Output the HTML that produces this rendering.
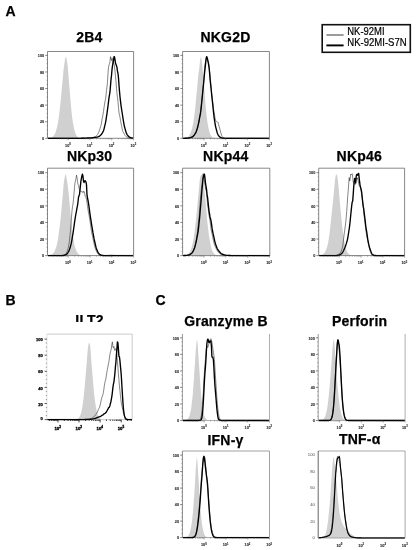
<!DOCTYPE html>
<html><head><meta charset="utf-8"><title>Figure</title>
<style>html,body{margin:0;padding:0;background:#fff}svg{display:block;filter:blur(0.38px)}text{font-family:'Liberation Sans', Arial, sans-serif}</style>
</head><body>
<svg width="418" height="550" viewBox="0 0 418 550">
<rect width="418" height="550" fill="#fff"/>
<text x="5.6" y="15.9" font-size="14" font-weight="bold" fill="#000" stroke="#000" stroke-width="0.25">A</text>
<text x="5.6" y="305.2" font-size="14" font-weight="bold" fill="#000" stroke="#000" stroke-width="0.25">B</text>
<text x="155.4" y="305.2" font-size="14" font-weight="bold" fill="#000" stroke="#000" stroke-width="0.25">C</text>
<text x="89.6" y="324.7" text-anchor="middle" font-size="14" font-weight="bold" fill="#000" stroke="#000" stroke-width="0.25" letter-spacing="0.2">ILT2</text>
<rect x="30" y="322" width="115" height="20" fill="#fff"/>
<text x="89.4" y="41.6" text-anchor="middle" font-size="14" font-weight="bold" fill="#000" stroke="#000" stroke-width="0.25" letter-spacing="0.2">2B4</text>
<text x="225.5" y="41.6" text-anchor="middle" font-size="14" font-weight="bold" fill="#000" stroke="#000" stroke-width="0.25" letter-spacing="0.2">NKG2D</text>
<text x="89.6" y="161.2" text-anchor="middle" font-size="14" font-weight="bold" fill="#000" stroke="#000" stroke-width="0.25" letter-spacing="0.2">NKp30</text>
<text x="225.8" y="161.2" text-anchor="middle" font-size="14" font-weight="bold" fill="#000" stroke="#000" stroke-width="0.25" letter-spacing="0.2">NKp44</text>
<text x="359.3" y="161.2" text-anchor="middle" font-size="14" font-weight="bold" fill="#000" stroke="#000" stroke-width="0.25" letter-spacing="0.2">NKp46</text>
<text x="226.0" y="325.6" text-anchor="middle" font-size="14" font-weight="bold" fill="#000" stroke="#000" stroke-width="0.25" letter-spacing="0.2">Granzyme B</text>
<text x="359.7" y="325.5" text-anchor="middle" font-size="14" font-weight="bold" fill="#000" stroke="#000" stroke-width="0.25" letter-spacing="0.2">Perforin</text>
<text x="225.5" y="444.6" text-anchor="middle" font-size="14" font-weight="bold" fill="#000" stroke="#000" stroke-width="0.25" letter-spacing="0.2">IFN-γ</text>
<text x="359.8" y="444.1" text-anchor="middle" font-size="14" font-weight="bold" fill="#000" stroke="#000" stroke-width="0.25" letter-spacing="0.2">TNF-α</text>
<rect x="322.2" y="24.7" width="88.1" height="27.6" fill="#fff" stroke="#111" stroke-width="1.6"/>
<path d="M326.4,35.0 H343.6" stroke="#7a7a7a" stroke-width="1.5"/>
<path d="M326.4,45.4 H343.6" stroke="#000" stroke-width="1.9"/>
<text x="347.3" y="35.4" font-size="10.3" textLength="37.2" lengthAdjust="spacingAndGlyphs" fill="#000" stroke="#000" stroke-width="0.2">NK-92MI</text>
<text x="347.3" y="46.1" font-size="10.3" textLength="59.4" lengthAdjust="spacingAndGlyphs" fill="#000" stroke="#000" stroke-width="0.2">NK-92MI-S7N</text>
<path d="M48.0,138.2 L48.5,138.2 L49.0,138.1 L49.5,138.0 L50.0,137.9 L50.5,137.8 L51.0,137.7 L51.5,137.5 L52.0,137.2 L52.5,136.9 L53.0,136.5 L53.5,135.9 L54.0,135.3 L54.5,134.5 L55.0,133.6 L55.5,132.4 L56.0,130.9 L56.5,129.1 L57.0,127.2 L57.5,125.0 L58.0,122.5 L58.5,119.4 L59.0,115.8 L59.5,111.7 L60.0,107.2 L60.5,102.5 L61.0,97.4 L61.5,92.1 L62.0,86.2 L62.5,81.4 L63.0,76.0 L63.5,70.4 L64.0,66.4 L64.5,63.0 L65.0,59.2 L65.5,57.1 L66.0,57.1 L66.5,58.5 L67.0,61.7 L67.5,64.6 L68.0,69.8 L68.5,76.6 L69.0,82.3 L69.5,88.2 L70.0,94.6 L70.5,100.8 L71.0,106.1 L71.5,111.2 L72.0,116.2 L72.5,120.1 L73.0,123.1 L73.5,125.8 L74.0,128.2 L74.5,130.4 L75.0,132.2 L75.5,133.6 L76.0,134.7 L76.5,135.6 L77.0,136.3 L77.5,136.8 L78.0,137.2 L78.5,137.5 L79.0,137.7 L79.5,137.9 L80.0,138.0 L80.5,138.1 L81.0,138.2 L81.5,138.2 L82.0,138.2 L82.5,138.3 L83.0,138.3 L83.5,138.3 L84.0,138.3 L84.5,138.3 L85.0,138.3 L85.5,138.3 L86.0,138.3 L86.5,138.3 L87.0,138.3 L87.5,138.3 L88.0,138.3 L88.5,138.3 L89.0,138.3 L89.5,138.3 L90.0,138.3 L90.5,138.3 L91.0,138.3 L91.5,138.3 L92.0,138.3 L92.5,138.3 L93.0,138.3 L93.5,138.3 L94.0,138.3 L94.5,138.3 L95.0,138.3 L95.5,138.3 L96.0,138.3 L96.5,138.3 L97.0,138.3 L97.5,138.3 L98.0,138.3 L98.5,138.3 L99.0,138.3 L99.5,138.3 L100.0,138.3 L100.5,138.3 L101.0,138.3 L101.5,138.3 L102.0,138.3 L102.5,138.3 L103.0,138.3 L103.5,138.3 L104.0,138.3 L104.5,138.3 L105.0,138.3 L105.5,138.3 L106.0,138.3 L106.5,138.3 L107.0,138.3 L107.5,138.3 L108.0,138.3 L108.5,138.3 L109.0,138.3 L109.5,138.3 L110.0,138.3 L110.5,138.3 L111.0,138.3 L111.5,138.3 L112.0,138.3 L112.5,138.3 L113.0,138.3 L113.5,138.3 L114.0,138.3 L114.5,138.3 L115.0,138.3 L115.5,138.3 L116.0,138.3 L116.5,138.3 L117.0,138.3 L117.5,138.3 L118.0,138.3 L118.5,138.3 L119.0,138.3 L119.5,138.3 L120.0,138.3 L120.5,138.3 L121.0,138.3 L121.5,138.3 L122.0,138.3 L122.5,138.3 L123.0,138.3 L123.5,138.3 L124.0,138.3 L124.5,138.3 L125.0,138.3 L125.5,138.3 L126.0,138.3 L126.5,138.3 L127.0,138.3 L127.5,138.3 L128.0,138.3 L128.5,138.3 L129.0,138.3 L129.5,138.3 L130.0,138.3 L130.5,138.3 L131.0,138.3 L131.5,138.3 L132.0,138.3 L132.5,138.3 L133.0,138.3 L133.0,138.3 L48.0,138.3 Z" fill="#d0d0d0" stroke="none"/>
<path d="M47.5,51.5 H133.6 V138.3" fill="none" stroke="#727272" stroke-width="0.85"/>
<path d="M47.5,51.5 V138.3" fill="none" stroke="#727272" stroke-width="0.85"/>
<path d="M47.5,138.3 H133.6" fill="none" stroke="#727272" stroke-width="0.85"/>
<path d="M48.0,138.1 L48.5,138.1 L49.0,138.1 L49.5,138.1 L50.0,138.1 L50.5,138.1 L51.0,138.1 L51.5,138.1 L52.0,138.1 L52.5,138.1 L53.0,138.1 L53.5,138.1 L54.0,138.1 L54.5,138.1 L55.0,138.1 L55.5,138.1 L56.0,138.1 L56.5,138.1 L57.0,138.1 L57.5,138.1 L58.0,138.1 L58.5,138.1 L59.0,138.1 L59.5,138.1 L60.0,138.1 L60.5,138.1 L61.0,138.1 L61.5,138.1 L62.0,138.1 L62.5,138.1 L63.0,138.1 L63.5,138.1 L64.0,138.1 L64.5,138.1 L65.0,138.1 L65.5,138.1 L66.0,138.1 L66.5,138.1 L67.0,138.1 L67.5,138.1 L68.0,138.1 L68.5,138.1 L69.0,138.1 L69.5,138.1 L70.0,138.1 L70.5,138.1 L71.0,138.1 L71.5,138.1 L72.0,138.1 L72.5,138.1 L73.0,138.1 L73.5,138.1 L74.0,138.1 L74.5,138.1 L75.0,138.1 L75.5,138.1 L76.0,138.1 L76.5,138.1 L77.0,138.1 L77.5,138.1 L78.0,138.1 L78.5,138.1 L79.0,138.1 L79.5,138.1 L80.0,138.1 L80.5,138.1 L81.0,138.1 L81.5,138.1 L82.0,138.1 L82.5,138.1 L83.0,138.1 L83.5,138.1 L84.0,138.1 L84.5,138.1 L85.0,138.1 L85.5,138.1 L86.0,138.1 L86.5,138.1 L87.0,138.1 L87.5,138.1 L88.0,138.1 L88.5,138.1 L89.0,138.1 L89.5,138.1 L90.0,138.1 L90.5,138.1 L91.0,138.1 L91.5,138.0 L92.0,137.9 L92.5,137.8 L93.0,137.7 L93.5,137.6 L94.0,137.4 L94.5,137.1 L95.0,136.8 L95.5,136.5 L96.0,136.1 L96.5,135.6 L97.0,135.1 L97.5,134.5 L98.0,133.8 L98.5,132.7 L99.0,131.5 L99.5,130.1 L100.0,128.5 L100.5,126.9 L101.0,125.4 L101.5,123.0 L102.0,119.4 L102.5,117.1 L103.0,114.4 L103.5,111.5 L104.0,107.6 L104.5,104.5 L105.0,101.3 L105.5,99.7 L106.0,95.4 L106.5,90.4 L107.0,86.6 L107.5,81.7 L108.0,73.4 L108.5,67.2 L109.0,64.9 L109.5,63.9 L110.0,61.5 L110.5,56.6 L111.0,59.5 L111.5,60.6 L112.0,57.9 L112.5,59.2 L113.0,63.9 L113.5,63.4 L114.0,63.6 L114.5,66.9 L115.0,71.6 L115.5,76.2 L116.0,81.2 L116.5,88.3 L117.0,94.0 L117.5,97.5 L118.0,101.8 L118.5,107.6 L119.0,112.9 L119.5,114.8 L120.0,117.3 L120.5,120.4 L121.0,123.1 L121.5,125.4 L122.0,128.1 L122.5,130.3 L123.0,131.7 L123.5,132.6 L124.0,133.6 L124.5,134.5 L125.0,135.3 L125.5,135.9 L126.0,136.4 L126.5,136.9 L127.0,137.2 L127.5,137.4 L128.0,137.7 L128.5,137.8 L129.0,137.9 L129.5,138.0 L130.0,138.1 L130.5,138.1 L131.0,138.1 L131.5,138.1 L132.0,138.1 L132.5,138.1 L133.0,138.1" fill="none" stroke="#333" stroke-width="0.6" stroke-linejoin="miter"/>
<path d="M48.0,138.3 L48.5,138.3 L49.0,138.3 L49.5,138.3 L50.0,138.3 L50.5,138.3 L51.0,138.3 L51.5,138.3 L52.0,138.3 L52.5,138.3 L53.0,138.3 L53.5,138.3 L54.0,138.3 L54.5,138.3 L55.0,138.3 L55.5,138.3 L56.0,138.3 L56.5,138.3 L57.0,138.3 L57.5,138.3 L58.0,138.3 L58.5,138.3 L59.0,138.3 L59.5,138.3 L60.0,138.3 L60.5,138.3 L61.0,138.3 L61.5,138.3 L62.0,138.3 L62.5,138.3 L63.0,138.3 L63.5,138.3 L64.0,138.3 L64.5,138.3 L65.0,138.3 L65.5,138.3 L66.0,138.3 L66.5,138.3 L67.0,138.3 L67.5,138.3 L68.0,138.3 L68.5,138.3 L69.0,138.3 L69.5,138.3 L70.0,138.3 L70.5,138.3 L71.0,138.3 L71.5,138.3 L72.0,138.3 L72.5,138.3 L73.0,138.3 L73.5,138.3 L74.0,138.3 L74.5,138.3 L75.0,138.3 L75.5,138.3 L76.0,138.3 L76.5,138.3 L77.0,138.3 L77.5,138.3 L78.0,138.3 L78.5,138.3 L79.0,138.3 L79.5,138.3 L80.0,138.3 L80.5,138.3 L81.0,138.3 L81.5,138.2 L82.0,138.2 L82.5,138.2 L83.0,138.2 L83.5,138.2 L84.0,138.2 L84.5,138.2 L85.0,138.2 L85.5,138.1 L86.0,138.1 L86.5,138.1 L87.0,138.1 L87.5,138.0 L88.0,138.0 L88.5,138.0 L89.0,138.0 L89.5,137.9 L90.0,137.9 L90.5,137.8 L91.0,137.8 L91.5,137.8 L92.0,137.7 L92.5,137.7 L93.0,137.6 L93.5,137.6 L94.0,137.5 L94.5,137.4 L95.0,137.4 L95.5,137.3 L96.0,137.3 L96.5,137.2 L97.0,137.1 L97.5,137.0 L98.0,136.8 L98.5,136.7 L99.0,136.4 L99.5,136.1 L100.0,135.7 L100.5,135.3 L101.0,134.7 L101.5,134.2 L102.0,133.5 L102.5,132.6 L103.0,131.6 L103.5,130.8 L104.0,129.1 L104.5,126.8 L105.0,124.8 L105.5,122.8 L106.0,119.9 L106.5,116.6 L107.0,113.4 L107.5,109.6 L108.0,106.0 L108.5,101.9 L109.0,97.6 L109.5,95.0 L110.0,91.7 L110.5,85.6 L111.0,79.6 L111.5,75.4 L112.0,69.7 L112.5,65.7 L113.0,63.1 L113.5,60.6 L114.0,56.6 L114.5,56.9 L115.0,59.6 L115.5,63.3 L116.0,64.4 L116.5,65.8 L117.0,67.6 L117.5,71.5 L118.0,73.4 L118.5,78.1 L119.0,85.3 L119.5,91.4 L120.0,96.8 L120.5,101.2 L121.0,105.3 L121.5,108.7 L122.0,112.0 L122.5,115.0 L123.0,118.4 L123.5,121.4 L124.0,124.3 L124.5,126.8 L125.0,128.6 L125.5,130.2 L126.0,132.0 L126.5,133.4 L127.0,134.3 L127.5,135.1 L128.0,135.8 L128.5,136.4 L129.0,136.8 L129.5,137.2 L130.0,137.4 L130.5,137.6 L131.0,137.8 L131.5,137.9 L132.0,138.0 L132.5,138.1 L133.0,138.2" fill="none" stroke="#000" stroke-width="1.35" stroke-linejoin="round"/>
<path d="M45.2,138.30 H47.5 M45.2,121.72 H47.5 M45.2,105.14 H47.5 M45.2,88.56 H47.5 M45.2,71.98 H47.5 M45.2,55.40 H47.5 " stroke="#555" stroke-width="0.7" fill="none"/>
<path d="M46.4,134.16 H47.5 M46.4,130.01 H47.5 M46.4,125.87 H47.5 M46.4,117.58 H47.5 M46.4,113.43 H47.5 M46.4,109.29 H47.5 M46.4,101.00 H47.5 M46.4,96.85 H47.5 M46.4,92.71 H47.5 M46.4,84.42 H47.5 M46.4,80.27 H47.5 M46.4,76.13 H47.5 M46.4,67.84 H47.5 M46.4,63.69 H47.5 M46.4,59.55 H47.5 " stroke="#555" stroke-width="0.5" fill="none" opacity="0.8"/>
<text x="44.1" y="140.0" text-anchor="end" font-size="3.75" font-weight="bold" fill="#2a2a2a" stroke="#2a2a2a" stroke-width="0.1">0</text>
<text x="44.1" y="123.4" text-anchor="end" font-size="3.75" font-weight="bold" fill="#2a2a2a" stroke="#2a2a2a" stroke-width="0.1">20</text>
<text x="44.1" y="106.8" text-anchor="end" font-size="3.75" font-weight="bold" fill="#2a2a2a" stroke="#2a2a2a" stroke-width="0.1">40</text>
<text x="44.1" y="90.3" text-anchor="end" font-size="3.75" font-weight="bold" fill="#2a2a2a" stroke="#2a2a2a" stroke-width="0.1">60</text>
<text x="44.1" y="73.7" text-anchor="end" font-size="3.75" font-weight="bold" fill="#2a2a2a" stroke="#2a2a2a" stroke-width="0.1">80</text>
<text x="44.1" y="57.1" text-anchor="end" font-size="3.75" font-weight="bold" fill="#2a2a2a" stroke="#2a2a2a" stroke-width="0.1">100</text>
<path d="M52.96,138.3 v1.0 M56.80,138.3 v1.0 M59.52,138.3 v1.0 M61.64,138.3 v1.0 M63.36,138.3 v1.0 M64.82,138.3 v1.0 M66.09,138.3 v1.0 M67.20,138.3 v1.0 M68.20,138.3 v2.0 M74.76,138.3 v1.0 M78.60,138.3 v1.0 M81.32,138.3 v1.0 M83.44,138.3 v1.0 M85.16,138.3 v1.0 M86.62,138.3 v1.0 M87.89,138.3 v1.0 M89.00,138.3 v1.0 M90.00,138.3 v2.0 M96.56,138.3 v1.0 M100.40,138.3 v1.0 M103.12,138.3 v1.0 M105.24,138.3 v1.0 M106.96,138.3 v1.0 M108.42,138.3 v1.0 M109.69,138.3 v1.0 M110.80,138.3 v1.0 M111.80,138.3 v2.0 M118.36,138.3 v1.0 M122.20,138.3 v1.0 M124.92,138.3 v1.0 M127.04,138.3 v1.0 M128.76,138.3 v1.0 M130.22,138.3 v1.0 M131.49,138.3 v1.0 M132.60,138.3 v1.0 M133.60,138.3 v2.0 " stroke="#555" stroke-width="0.5" fill="none"/>
<text x="67.9" y="146.8" text-anchor="middle" font-size="3.75" font-weight="bold" fill="#2a2a2a" stroke="#2a2a2a" stroke-width="0.1">10<tspan dy="-1.6" font-size="2.70">0</tspan></text>
<text x="89.7" y="146.8" text-anchor="middle" font-size="3.75" font-weight="bold" fill="#2a2a2a" stroke="#2a2a2a" stroke-width="0.1">10<tspan dy="-1.6" font-size="2.70">1</tspan></text>
<text x="111.5" y="146.8" text-anchor="middle" font-size="3.75" font-weight="bold" fill="#2a2a2a" stroke="#2a2a2a" stroke-width="0.1">10<tspan dy="-1.6" font-size="2.70">2</tspan></text>
<text x="133.3" y="146.8" text-anchor="middle" font-size="3.75" font-weight="bold" fill="#2a2a2a" stroke="#2a2a2a" stroke-width="0.1">10<tspan dy="-1.6" font-size="2.70">3</tspan></text>
<path d="M183.1,138.2 L183.6,138.2 L184.1,138.1 L184.6,138.1 L185.1,138.0 L185.6,137.9 L186.1,137.8 L186.6,137.6 L187.1,137.3 L187.6,137.1 L188.1,136.7 L188.6,136.2 L189.1,135.6 L189.6,134.9 L190.1,134.0 L190.6,132.8 L191.1,131.5 L191.6,130.0 L192.1,128.2 L192.6,126.0 L193.1,123.5 L193.6,120.7 L194.1,117.3 L194.6,113.6 L195.1,109.3 L195.6,103.7 L196.1,98.4 L196.6,93.3 L197.1,88.7 L197.6,82.6 L198.1,77.1 L198.6,72.5 L199.1,70.0 L199.6,65.2 L200.1,60.3 L200.6,57.1 L201.1,58.0 L201.6,59.8 L202.1,64.2 L202.6,68.8 L203.1,74.4 L203.6,80.0 L204.1,86.6 L204.6,92.4 L205.1,99.1 L205.6,105.5 L206.1,111.1 L206.6,115.5 L207.1,119.5 L207.6,123.2 L208.1,126.1 L208.6,128.5 L209.1,130.6 L209.6,132.5 L210.1,134.0 L210.6,135.0 L211.1,135.9 L211.6,136.5 L212.1,137.0 L212.6,137.4 L213.1,137.6 L213.6,137.8 L214.1,138.0 L214.6,138.1 L215.1,138.2 L215.6,138.2 L216.1,138.2 L216.6,138.3 L217.1,138.3 L217.6,138.3 L218.1,138.3 L218.6,138.3 L219.1,138.3 L219.6,138.3 L220.1,138.3 L220.6,138.3 L221.1,138.3 L221.6,138.3 L222.1,138.3 L222.6,138.3 L223.1,138.3 L223.6,138.3 L224.1,138.3 L224.6,138.3 L225.1,138.3 L225.6,138.3 L226.1,138.3 L226.6,138.3 L227.1,138.3 L227.6,138.3 L228.1,138.3 L228.6,138.3 L229.1,138.3 L229.6,138.3 L230.1,138.3 L230.6,138.3 L231.1,138.3 L231.6,138.3 L232.1,138.3 L232.6,138.3 L233.1,138.3 L233.6,138.3 L234.1,138.3 L234.6,138.3 L235.1,138.3 L235.6,138.3 L236.1,138.3 L236.6,138.3 L237.1,138.3 L237.6,138.3 L238.1,138.3 L238.6,138.3 L239.1,138.3 L239.6,138.3 L240.1,138.3 L240.6,138.3 L241.1,138.3 L241.6,138.3 L242.1,138.3 L242.6,138.3 L243.1,138.3 L243.6,138.3 L244.1,138.3 L244.6,138.3 L245.1,138.3 L245.6,138.3 L246.1,138.3 L246.6,138.3 L247.1,138.3 L247.6,138.3 L248.1,138.3 L248.6,138.3 L249.1,138.3 L249.6,138.3 L250.1,138.3 L250.6,138.3 L251.1,138.3 L251.6,138.3 L252.1,138.3 L252.6,138.3 L253.1,138.3 L253.6,138.3 L254.1,138.3 L254.6,138.3 L255.1,138.3 L255.6,138.3 L256.1,138.3 L256.6,138.3 L257.1,138.3 L257.6,138.3 L258.1,138.3 L258.6,138.3 L259.1,138.3 L259.6,138.3 L260.1,138.3 L260.6,138.3 L261.1,138.3 L261.6,138.3 L262.1,138.3 L262.6,138.3 L263.1,138.3 L263.6,138.3 L264.1,138.3 L264.6,138.3 L265.1,138.3 L265.6,138.3 L266.1,138.3 L266.6,138.3 L267.1,138.3 L267.6,138.3 L268.1,138.3 L268.6,138.3 L269.1,138.3 L269.1,138.3 L183.1,138.3 Z" fill="#d0d0d0" stroke="none"/>
<path d="M182.6,51.5 H269.4 V138.3" fill="none" stroke="#727272" stroke-width="0.85"/>
<path d="M182.6,51.5 V138.3" fill="none" stroke="#727272" stroke-width="0.85"/>
<path d="M182.6,138.3 H269.4" fill="none" stroke="#727272" stroke-width="0.85"/>
<path d="M183.1,138.1 L183.6,138.1 L184.1,138.1 L184.6,138.1 L185.1,138.1 L185.6,138.1 L186.1,138.1 L186.6,138.1 L187.1,138.1 L187.6,138.1 L188.1,138.1 L188.6,138.1 L189.1,138.1 L189.6,138.0 L190.1,138.0 L190.6,137.8 L191.1,137.7 L191.6,137.5 L192.1,137.3 L192.6,137.1 L193.1,136.8 L193.6,136.4 L194.1,135.9 L194.6,135.1 L195.1,134.3 L195.6,133.5 L196.1,132.4 L196.6,131.4 L197.1,130.0 L197.6,128.1 L198.1,125.6 L198.6,124.2 L199.1,121.7 L199.6,118.3 L200.1,114.7 L200.6,111.4 L201.1,106.7 L201.6,102.1 L202.1,98.0 L202.6,93.1 L203.1,87.0 L203.6,82.2 L204.1,76.0 L204.6,68.1 L205.1,63.9 L205.6,61.5 L206.1,59.7 L206.6,56.6 L207.1,58.8 L207.6,61.4 L208.1,62.3 L208.6,63.0 L209.1,67.6 L209.6,70.7 L210.1,75.2 L210.6,81.0 L211.1,88.2 L211.6,92.8 L212.1,97.4 L212.6,101.6 L213.1,105.7 L213.6,109.4 L214.1,112.7 L214.6,115.3 L215.1,118.3 L215.6,120.5 L216.1,121.4 L216.6,121.5 L217.1,121.8 L217.6,122.0 L218.1,122.5 L218.6,124.4 L219.1,126.5 L219.6,128.1 L220.1,129.9 L220.6,131.9 L221.1,133.6 L221.6,135.2 L222.1,136.3 L222.6,137.0 L223.1,137.5 L223.6,137.8 L224.1,138.0 L224.6,138.1 L225.1,138.1 L225.6,138.1 L226.1,138.1 L226.6,138.1 L227.1,138.1 L227.6,138.1 L228.1,138.1 L228.6,138.1 L229.1,138.1 L229.6,138.1 L230.1,138.1 L230.6,138.1 L231.1,138.1 L231.6,138.1 L232.1,138.1 L232.6,138.1 L233.1,138.1 L233.6,138.1 L234.1,138.1 L234.6,138.1 L235.1,138.1 L235.6,138.1 L236.1,138.1 L236.6,138.1 L237.1,138.1 L237.6,138.1 L238.1,138.1 L238.6,138.1 L239.1,138.1 L239.6,138.1 L240.1,138.1 L240.6,138.1 L241.1,138.1 L241.6,138.1 L242.1,138.1 L242.6,138.1 L243.1,138.1 L243.6,138.1 L244.1,138.1 L244.6,138.1 L245.1,138.1 L245.6,138.1 L246.1,138.1 L246.6,138.1 L247.1,138.1 L247.6,138.1 L248.1,138.1 L248.6,138.1 L249.1,138.1 L249.6,138.1 L250.1,138.1 L250.6,138.1 L251.1,138.1 L251.6,138.1 L252.1,138.1 L252.6,138.1 L253.1,138.1 L253.6,138.1 L254.1,138.1 L254.6,138.1 L255.1,138.1 L255.6,138.1 L256.1,138.1 L256.6,138.1 L257.1,138.1 L257.6,138.1 L258.1,138.1 L258.6,138.1 L259.1,138.1 L259.6,138.1 L260.1,138.1 L260.6,138.1 L261.1,138.1 L261.6,138.1 L262.1,138.1 L262.6,138.1 L263.1,138.1 L263.6,138.1 L264.1,138.1 L264.6,138.1 L265.1,138.1 L265.6,138.1 L266.1,138.1 L266.6,138.1 L267.1,138.1 L267.6,138.1 L268.1,138.1 L268.6,138.1 L269.1,138.1" fill="none" stroke="#333" stroke-width="0.6" stroke-linejoin="miter"/>
<path d="M183.1,138.3 L183.6,138.3 L184.1,138.3 L184.6,138.3 L185.1,138.2 L185.6,138.2 L186.1,138.2 L186.6,138.2 L187.1,138.2 L187.6,138.1 L188.1,138.1 L188.6,138.0 L189.1,137.9 L189.6,137.8 L190.1,137.7 L190.6,137.6 L191.1,137.4 L191.6,137.2 L192.1,137.0 L192.6,136.7 L193.1,136.3 L193.6,135.7 L194.1,135.1 L194.6,134.4 L195.1,133.7 L195.6,132.9 L196.1,131.8 L196.6,130.4 L197.1,128.9 L197.6,127.3 L198.1,125.2 L198.6,122.9 L199.1,120.5 L199.6,117.7 L200.1,115.3 L200.6,112.5 L201.1,108.4 L201.6,103.5 L202.1,98.5 L202.6,93.3 L203.1,88.3 L203.6,83.6 L204.1,77.8 L204.6,72.6 L205.1,68.1 L205.6,63.6 L206.1,58.6 L206.6,56.6 L207.1,57.3 L207.6,59.4 L208.1,61.5 L208.6,64.6 L209.1,67.7 L209.6,73.3 L210.1,79.4 L210.6,84.4 L211.1,88.5 L211.6,94.0 L212.1,98.8 L212.6,103.1 L213.1,108.3 L213.6,113.0 L214.1,117.3 L214.6,120.9 L215.1,124.0 L215.6,126.5 L216.1,128.6 L216.6,130.5 L217.1,132.4 L217.6,133.8 L218.1,134.8 L218.6,135.6 L219.1,136.3 L219.6,136.8 L220.1,137.2 L220.6,137.5 L221.1,137.7 L221.6,137.9 L222.1,138.0 L222.6,138.1 L223.1,138.2 L223.6,138.2 L224.1,138.2 L224.6,138.3 L225.1,138.3 L225.6,138.3 L226.1,138.3 L226.6,138.3 L227.1,138.3 L227.6,138.3 L228.1,138.3 L228.6,138.3 L229.1,138.3 L229.6,138.3 L230.1,138.3 L230.6,138.3 L231.1,138.3 L231.6,138.3 L232.1,138.3 L232.6,138.3 L233.1,138.3 L233.6,138.3 L234.1,138.3 L234.6,138.3 L235.1,138.3 L235.6,138.3 L236.1,138.3 L236.6,138.3 L237.1,138.3 L237.6,138.3 L238.1,138.3 L238.6,138.3 L239.1,138.3 L239.6,138.3 L240.1,138.3 L240.6,138.3 L241.1,138.3 L241.6,138.3 L242.1,138.3 L242.6,138.3 L243.1,138.3 L243.6,138.3 L244.1,138.3 L244.6,138.3 L245.1,138.3 L245.6,138.3 L246.1,138.3 L246.6,138.3 L247.1,138.3 L247.6,138.3 L248.1,138.3 L248.6,138.3 L249.1,138.3 L249.6,138.3 L250.1,138.3 L250.6,138.3 L251.1,138.3 L251.6,138.3 L252.1,138.3 L252.6,138.3 L253.1,138.3 L253.6,138.3 L254.1,138.3 L254.6,138.3 L255.1,138.3 L255.6,138.3 L256.1,138.3 L256.6,138.3 L257.1,138.3 L257.6,138.3 L258.1,138.3 L258.6,138.3 L259.1,138.3 L259.6,138.3 L260.1,138.3 L260.6,138.3 L261.1,138.3 L261.6,138.3 L262.1,138.3 L262.6,138.3 L263.1,138.3 L263.6,138.3 L264.1,138.3 L264.6,138.3 L265.1,138.3 L265.6,138.3 L266.1,138.3 L266.6,138.3 L267.1,138.3 L267.6,138.3 L268.1,138.3 L268.6,138.3 L269.1,138.3" fill="none" stroke="#000" stroke-width="1.35" stroke-linejoin="round"/>
<path d="M180.3,138.30 H182.6 M180.3,121.72 H182.6 M180.3,105.14 H182.6 M180.3,88.56 H182.6 M180.3,71.98 H182.6 M180.3,55.40 H182.6 " stroke="#555" stroke-width="0.7" fill="none"/>
<path d="M181.5,134.16 H182.6 M181.5,130.01 H182.6 M181.5,125.87 H182.6 M181.5,117.58 H182.6 M181.5,113.43 H182.6 M181.5,109.29 H182.6 M181.5,101.00 H182.6 M181.5,96.85 H182.6 M181.5,92.71 H182.6 M181.5,84.42 H182.6 M181.5,80.27 H182.6 M181.5,76.13 H182.6 M181.5,67.84 H182.6 M181.5,63.69 H182.6 M181.5,59.55 H182.6 " stroke="#555" stroke-width="0.5" fill="none" opacity="0.8"/>
<text x="179.2" y="140.0" text-anchor="end" font-size="3.75" font-weight="bold" fill="#2a2a2a" stroke="#2a2a2a" stroke-width="0.1">0</text>
<text x="179.2" y="123.4" text-anchor="end" font-size="3.75" font-weight="bold" fill="#2a2a2a" stroke="#2a2a2a" stroke-width="0.1">20</text>
<text x="179.2" y="106.8" text-anchor="end" font-size="3.75" font-weight="bold" fill="#2a2a2a" stroke="#2a2a2a" stroke-width="0.1">40</text>
<text x="179.2" y="90.3" text-anchor="end" font-size="3.75" font-weight="bold" fill="#2a2a2a" stroke="#2a2a2a" stroke-width="0.1">60</text>
<text x="179.2" y="73.7" text-anchor="end" font-size="3.75" font-weight="bold" fill="#2a2a2a" stroke="#2a2a2a" stroke-width="0.1">80</text>
<text x="179.2" y="57.1" text-anchor="end" font-size="3.75" font-weight="bold" fill="#2a2a2a" stroke="#2a2a2a" stroke-width="0.1">100</text>
<path d="M188.76,138.3 v1.0 M192.60,138.3 v1.0 M195.32,138.3 v1.0 M197.44,138.3 v1.0 M199.16,138.3 v1.0 M200.62,138.3 v1.0 M201.89,138.3 v1.0 M203.00,138.3 v1.0 M204.00,138.3 v2.0 M210.56,138.3 v1.0 M214.40,138.3 v1.0 M217.12,138.3 v1.0 M219.24,138.3 v1.0 M220.96,138.3 v1.0 M222.42,138.3 v1.0 M223.69,138.3 v1.0 M224.80,138.3 v1.0 M225.80,138.3 v2.0 M232.36,138.3 v1.0 M236.20,138.3 v1.0 M238.92,138.3 v1.0 M241.04,138.3 v1.0 M242.76,138.3 v1.0 M244.22,138.3 v1.0 M245.49,138.3 v1.0 M246.60,138.3 v1.0 M247.60,138.3 v2.0 M254.16,138.3 v1.0 M258.00,138.3 v1.0 M260.72,138.3 v1.0 M262.84,138.3 v1.0 M264.56,138.3 v1.0 M266.02,138.3 v1.0 M267.29,138.3 v1.0 M268.40,138.3 v1.0 M269.40,138.3 v2.0 " stroke="#555" stroke-width="0.5" fill="none"/>
<text x="203.7" y="146.8" text-anchor="middle" font-size="3.75" font-weight="bold" fill="#2a2a2a" stroke="#2a2a2a" stroke-width="0.1">10<tspan dy="-1.6" font-size="2.70">0</tspan></text>
<text x="225.5" y="146.8" text-anchor="middle" font-size="3.75" font-weight="bold" fill="#2a2a2a" stroke="#2a2a2a" stroke-width="0.1">10<tspan dy="-1.6" font-size="2.70">1</tspan></text>
<text x="247.3" y="146.8" text-anchor="middle" font-size="3.75" font-weight="bold" fill="#2a2a2a" stroke="#2a2a2a" stroke-width="0.1">10<tspan dy="-1.6" font-size="2.70">2</tspan></text>
<text x="269.1" y="146.8" text-anchor="middle" font-size="3.75" font-weight="bold" fill="#2a2a2a" stroke="#2a2a2a" stroke-width="0.1">10<tspan dy="-1.6" font-size="2.70">3</tspan></text>
<path d="M48.0,255.5 L48.5,255.4 L49.0,255.4 L49.5,255.3 L50.0,255.2 L50.5,255.0 L51.0,254.9 L51.5,254.6 L52.0,254.3 L52.5,254.0 L53.0,253.5 L53.5,252.9 L54.0,252.3 L54.5,251.4 L55.0,250.3 L55.5,249.1 L56.0,247.7 L56.5,245.9 L57.0,243.9 L57.5,241.7 L58.0,238.9 L58.5,235.2 L59.0,231.6 L59.5,228.1 L60.0,223.7 L60.5,219.4 L61.0,214.8 L61.5,208.8 L62.0,203.1 L62.5,198.1 L63.0,192.1 L63.5,185.8 L64.0,181.2 L64.5,178.2 L65.0,175.9 L65.5,174.4 L66.0,174.7 L66.5,177.9 L67.0,180.5 L67.5,183.8 L68.0,187.3 L68.5,192.3 L69.0,197.0 L69.5,202.5 L70.0,208.3 L70.5,213.9 L71.0,218.7 L71.5,223.4 L72.0,227.7 L72.5,232.1 L73.0,236.1 L73.5,239.6 L74.0,242.6 L74.5,245.2 L75.0,247.2 L75.5,248.6 L76.0,250.0 L76.5,251.2 L77.0,252.2 L77.5,253.0 L78.0,253.6 L78.5,254.1 L79.0,254.5 L79.5,254.7 L80.0,255.0 L80.5,255.2 L81.0,255.3 L81.5,255.4 L82.0,255.4 L82.5,255.5 L83.0,255.5 L83.5,255.5 L84.0,255.6 L84.5,255.6 L85.0,255.6 L85.5,255.6 L86.0,255.6 L86.5,255.6 L87.0,255.6 L87.5,255.6 L88.0,255.6 L88.5,255.6 L89.0,255.6 L89.5,255.6 L90.0,255.6 L90.5,255.6 L91.0,255.6 L91.5,255.6 L92.0,255.6 L92.5,255.6 L93.0,255.6 L93.5,255.6 L94.0,255.6 L94.5,255.6 L95.0,255.6 L95.5,255.6 L96.0,255.6 L96.5,255.6 L97.0,255.6 L97.5,255.6 L98.0,255.6 L98.5,255.6 L99.0,255.6 L99.5,255.6 L100.0,255.6 L100.5,255.6 L101.0,255.6 L101.5,255.6 L102.0,255.6 L102.5,255.6 L103.0,255.6 L103.5,255.6 L104.0,255.6 L104.5,255.6 L105.0,255.5 L105.5,255.5 L106.0,255.4 L106.5,255.3 L107.0,255.2 L107.5,255.1 L108.0,255.0 L108.5,254.8 L109.0,254.7 L109.5,254.5 L110.0,254.4 L110.5,254.4 L111.0,254.3 L111.5,254.3 L112.0,254.4 L112.5,254.5 L113.0,254.7 L113.5,254.8 L114.0,255.0 L114.5,255.1 L115.0,255.2 L115.5,255.3 L116.0,255.4 L116.5,255.5 L117.0,255.5 L117.5,255.6 L118.0,255.6 L118.5,255.6 L119.0,255.6 L119.5,255.6 L120.0,255.6 L120.5,255.6 L121.0,255.6 L121.5,255.6 L122.0,255.6 L122.5,255.6 L123.0,255.6 L123.5,255.6 L124.0,255.6 L124.5,255.6 L125.0,255.6 L125.5,255.6 L126.0,255.6 L126.5,255.6 L127.0,255.6 L127.5,255.6 L128.0,255.6 L128.5,255.6 L129.0,255.6 L129.5,255.6 L130.0,255.6 L130.5,255.6 L131.0,255.6 L131.5,255.6 L132.0,255.6 L132.5,255.6 L133.0,255.6 L133.0,255.6 L48.0,255.6 Z" fill="#d0d0d0" stroke="none"/>
<path d="M47.5,168.2 H133.6 V255.6" fill="none" stroke="#727272" stroke-width="0.85"/>
<path d="M47.5,168.2 V255.6" fill="none" stroke="#727272" stroke-width="0.85"/>
<path d="M47.5,255.6 H133.6" fill="none" stroke="#727272" stroke-width="0.85"/>
<path d="M48.0,255.4 L48.5,255.4 L49.0,255.4 L49.5,255.4 L50.0,255.4 L50.5,255.4 L51.0,255.4 L51.5,255.4 L52.0,255.4 L52.5,255.4 L53.0,255.4 L53.5,255.4 L54.0,255.4 L54.5,255.4 L55.0,255.4 L55.5,255.4 L56.0,255.4 L56.5,255.4 L57.0,255.4 L57.5,255.4 L58.0,255.4 L58.5,255.4 L59.0,255.4 L59.5,255.4 L60.0,255.4 L60.5,255.4 L61.0,255.4 L61.5,255.4 L62.0,255.4 L62.5,255.3 L63.0,255.2 L63.5,255.1 L64.0,254.9 L64.5,254.8 L65.0,254.5 L65.5,254.0 L66.0,253.4 L66.5,252.5 L67.0,251.6 L67.5,250.4 L68.0,248.6 L68.5,246.6 L69.0,243.9 L69.5,240.1 L70.0,235.5 L70.5,230.4 L71.0,223.9 L71.5,216.9 L72.0,210.8 L72.5,206.6 L73.0,203.9 L73.5,199.5 L74.0,193.7 L74.5,187.4 L75.0,182.8 L75.5,180.8 L76.0,178.3 L76.5,175.1 L77.0,177.3 L77.5,181.5 L78.0,184.5 L78.5,185.4 L79.0,187.7 L79.5,189.7 L80.0,190.8 L80.5,191.4 L81.0,191.8 L81.5,191.6 L82.0,191.8 L82.5,191.8 L83.0,192.7 L83.5,191.3 L84.0,191.3 L84.5,192.9 L85.0,195.6 L85.5,196.6 L86.0,197.4 L86.5,199.7 L87.0,202.3 L87.5,206.4 L88.0,209.7 L88.5,212.7 L89.0,214.9 L89.5,218.1 L90.0,220.9 L90.5,224.4 L91.0,228.2 L91.5,231.5 L92.0,233.9 L92.5,236.4 L93.0,238.8 L93.5,241.0 L94.0,243.4 L94.5,245.6 L95.0,247.5 L95.5,248.9 L96.0,250.2 L96.5,251.4 L97.0,252.4 L97.5,253.2 L98.0,253.8 L98.5,254.3 L99.0,254.7 L99.5,255.0 L100.0,255.2 L100.5,255.3 L101.0,255.4 L101.5,255.4 L102.0,255.4 L102.5,255.4 L103.0,255.4 L103.5,255.4 L104.0,255.4 L104.5,255.4 L105.0,255.4 L105.5,255.4 L106.0,255.4 L106.5,255.4 L107.0,255.4 L107.5,255.4 L108.0,255.4 L108.5,255.4 L109.0,255.4 L109.5,255.4 L110.0,255.4 L110.5,255.4 L111.0,255.4 L111.5,255.4 L112.0,255.4 L112.5,255.4 L113.0,255.4 L113.5,255.4 L114.0,255.4 L114.5,255.4 L115.0,255.4 L115.5,255.4 L116.0,255.4 L116.5,255.4 L117.0,255.4 L117.5,255.4 L118.0,255.4 L118.5,255.4 L119.0,255.4 L119.5,255.4 L120.0,255.4 L120.5,255.4 L121.0,255.4 L121.5,255.4 L122.0,255.4 L122.5,255.4 L123.0,255.4 L123.5,255.4 L124.0,255.4 L124.5,255.4 L125.0,255.4 L125.5,255.4 L126.0,255.4 L126.5,255.4 L127.0,255.4 L127.5,255.4 L128.0,255.4 L128.5,255.4 L129.0,255.4 L129.5,255.4 L130.0,255.4 L130.5,255.4 L131.0,255.4 L131.5,255.4 L132.0,255.4 L132.5,255.4 L133.0,255.4" fill="none" stroke="#333" stroke-width="0.6" stroke-linejoin="miter"/>
<path d="M48.0,255.6 L48.5,255.6 L49.0,255.6 L49.5,255.6 L50.0,255.6 L50.5,255.6 L51.0,255.6 L51.5,255.6 L52.0,255.6 L52.5,255.6 L53.0,255.6 L53.5,255.6 L54.0,255.6 L54.5,255.6 L55.0,255.6 L55.5,255.6 L56.0,255.6 L56.5,255.6 L57.0,255.6 L57.5,255.6 L58.0,255.6 L58.5,255.6 L59.0,255.6 L59.5,255.6 L60.0,255.6 L60.5,255.6 L61.0,255.6 L61.5,255.6 L62.0,255.6 L62.5,255.6 L63.0,255.5 L63.5,255.4 L64.0,255.3 L64.5,255.2 L65.0,255.0 L65.5,254.8 L66.0,254.6 L66.5,254.3 L67.0,253.9 L67.5,253.3 L68.0,252.5 L68.5,251.6 L69.0,250.6 L69.5,249.5 L70.0,248.1 L70.5,246.3 L71.0,244.4 L71.5,242.2 L72.0,239.4 L72.5,236.2 L73.0,233.3 L73.5,230.0 L74.0,226.3 L74.5,222.6 L75.0,219.4 L75.5,216.1 L76.0,213.4 L76.5,210.8 L77.0,207.9 L77.5,205.6 L78.0,202.0 L78.5,197.3 L79.0,195.7 L79.5,194.4 L80.0,190.0 L80.5,184.9 L81.0,180.7 L81.5,177.9 L82.0,175.4 L82.5,174.1 L83.0,176.6 L83.5,181.1 L84.0,182.5 L84.5,181.4 L85.0,180.6 L85.5,181.5 L86.0,181.8 L86.5,184.8 L87.0,195.2 L87.5,197.8 L88.0,200.4 L88.5,203.4 L89.0,206.6 L89.5,210.3 L90.0,214.1 L90.5,217.3 L91.0,220.7 L91.5,223.8 L92.0,226.9 L92.5,229.8 L93.0,232.9 L93.5,235.6 L94.0,238.4 L94.5,240.7 L95.0,243.0 L95.5,245.2 L96.0,247.2 L96.5,248.7 L97.0,250.0 L97.5,251.3 L98.0,252.4 L98.5,253.1 L99.0,253.8 L99.5,254.3 L100.0,254.7 L100.5,254.9 L101.0,255.1 L101.5,255.2 L102.0,255.4 L102.5,255.5 L103.0,255.5 L103.5,255.6 L104.0,255.6 L104.5,255.6 L105.0,255.6 L105.5,255.6 L106.0,255.6 L106.5,255.6 L107.0,255.6 L107.5,255.6 L108.0,255.6 L108.5,255.6 L109.0,255.6 L109.5,255.6 L110.0,255.6 L110.5,255.6 L111.0,255.6 L111.5,255.6 L112.0,255.6 L112.5,255.6 L113.0,255.6 L113.5,255.6 L114.0,255.6 L114.5,255.6 L115.0,255.6 L115.5,255.6 L116.0,255.6 L116.5,255.6 L117.0,255.6 L117.5,255.6 L118.0,255.6 L118.5,255.6 L119.0,255.6 L119.5,255.6 L120.0,255.6 L120.5,255.6 L121.0,255.6 L121.5,255.6 L122.0,255.6 L122.5,255.6 L123.0,255.6 L123.5,255.6 L124.0,255.6 L124.5,255.6 L125.0,255.6 L125.5,255.6 L126.0,255.6 L126.5,255.6 L127.0,255.6 L127.5,255.6 L128.0,255.6 L128.5,255.6 L129.0,255.6 L129.5,255.6 L130.0,255.6 L130.5,255.6 L131.0,255.6 L131.5,255.6 L132.0,255.6 L132.5,255.6 L133.0,255.6" fill="none" stroke="#000" stroke-width="1.35" stroke-linejoin="round"/>
<path d="M45.2,255.60 H47.5 M45.2,239.02 H47.5 M45.2,222.44 H47.5 M45.2,205.86 H47.5 M45.2,189.28 H47.5 M45.2,172.70 H47.5 " stroke="#555" stroke-width="0.7" fill="none"/>
<path d="M46.4,251.45 H47.5 M46.4,247.31 H47.5 M46.4,243.16 H47.5 M46.4,234.88 H47.5 M46.4,230.73 H47.5 M46.4,226.58 H47.5 M46.4,218.29 H47.5 M46.4,214.15 H47.5 M46.4,210.00 H47.5 M46.4,201.72 H47.5 M46.4,197.57 H47.5 M46.4,193.43 H47.5 M46.4,185.13 H47.5 M46.4,180.99 H47.5 M46.4,176.84 H47.5 " stroke="#555" stroke-width="0.5" fill="none" opacity="0.8"/>
<text x="44.1" y="257.3" text-anchor="end" font-size="3.75" font-weight="bold" fill="#2a2a2a" stroke="#2a2a2a" stroke-width="0.1">0</text>
<text x="44.1" y="240.7" text-anchor="end" font-size="3.75" font-weight="bold" fill="#2a2a2a" stroke="#2a2a2a" stroke-width="0.1">20</text>
<text x="44.1" y="224.1" text-anchor="end" font-size="3.75" font-weight="bold" fill="#2a2a2a" stroke="#2a2a2a" stroke-width="0.1">40</text>
<text x="44.1" y="207.6" text-anchor="end" font-size="3.75" font-weight="bold" fill="#2a2a2a" stroke="#2a2a2a" stroke-width="0.1">60</text>
<text x="44.1" y="191.0" text-anchor="end" font-size="3.75" font-weight="bold" fill="#2a2a2a" stroke="#2a2a2a" stroke-width="0.1">80</text>
<text x="44.1" y="174.4" text-anchor="end" font-size="3.75" font-weight="bold" fill="#2a2a2a" stroke="#2a2a2a" stroke-width="0.1">100</text>
<path d="M52.96,255.6 v1.0 M56.80,255.6 v1.0 M59.52,255.6 v1.0 M61.64,255.6 v1.0 M63.36,255.6 v1.0 M64.82,255.6 v1.0 M66.09,255.6 v1.0 M67.20,255.6 v1.0 M68.20,255.6 v2.0 M74.76,255.6 v1.0 M78.60,255.6 v1.0 M81.32,255.6 v1.0 M83.44,255.6 v1.0 M85.16,255.6 v1.0 M86.62,255.6 v1.0 M87.89,255.6 v1.0 M89.00,255.6 v1.0 M90.00,255.6 v2.0 M96.56,255.6 v1.0 M100.40,255.6 v1.0 M103.12,255.6 v1.0 M105.24,255.6 v1.0 M106.96,255.6 v1.0 M108.42,255.6 v1.0 M109.69,255.6 v1.0 M110.80,255.6 v1.0 M111.80,255.6 v2.0 M118.36,255.6 v1.0 M122.20,255.6 v1.0 M124.92,255.6 v1.0 M127.04,255.6 v1.0 M128.76,255.6 v1.0 M130.22,255.6 v1.0 M131.49,255.6 v1.0 M132.60,255.6 v1.0 M133.60,255.6 v2.0 " stroke="#555" stroke-width="0.5" fill="none"/>
<text x="67.9" y="264.1" text-anchor="middle" font-size="3.75" font-weight="bold" fill="#2a2a2a" stroke="#2a2a2a" stroke-width="0.1">10<tspan dy="-1.6" font-size="2.70">0</tspan></text>
<text x="89.7" y="264.1" text-anchor="middle" font-size="3.75" font-weight="bold" fill="#2a2a2a" stroke="#2a2a2a" stroke-width="0.1">10<tspan dy="-1.6" font-size="2.70">1</tspan></text>
<text x="111.5" y="264.1" text-anchor="middle" font-size="3.75" font-weight="bold" fill="#2a2a2a" stroke="#2a2a2a" stroke-width="0.1">10<tspan dy="-1.6" font-size="2.70">2</tspan></text>
<text x="133.3" y="264.1" text-anchor="middle" font-size="3.75" font-weight="bold" fill="#2a2a2a" stroke="#2a2a2a" stroke-width="0.1">10<tspan dy="-1.6" font-size="2.70">3</tspan></text>
<path d="M183.1,255.5 L183.6,255.5 L184.1,255.4 L184.6,255.4 L185.1,255.3 L185.6,255.2 L186.1,255.1 L186.6,254.9 L187.1,254.7 L187.6,254.4 L188.1,254.0 L188.6,253.6 L189.1,253.0 L189.6,252.3 L190.1,251.4 L190.6,250.3 L191.1,249.0 L191.6,247.4 L192.1,245.4 L192.6,243.4 L193.1,241.1 L193.6,238.4 L194.1,234.9 L194.6,231.4 L195.1,227.6 L195.6,223.6 L196.1,218.9 L196.6,213.6 L197.1,208.7 L197.6,203.3 L198.1,197.5 L198.6,191.9 L199.1,187.0 L199.6,181.6 L200.1,177.4 L200.6,176.0 L201.1,175.0 L201.6,174.7 L202.1,174.4 L202.6,175.8 L203.1,178.6 L203.6,182.3 L204.1,187.5 L204.6,192.4 L205.1,196.9 L205.6,202.0 L206.1,207.3 L206.6,213.0 L207.1,219.4 L207.6,224.3 L208.1,228.5 L208.6,232.5 L209.1,236.2 L209.6,239.3 L210.1,242.4 L210.6,244.9 L211.1,247.2 L211.6,249.0 L212.1,250.4 L212.6,251.4 L213.1,252.2 L213.6,253.1 L214.1,253.7 L214.6,254.1 L215.1,254.5 L215.6,254.8 L216.1,255.0 L216.6,255.2 L217.1,255.3 L217.6,255.4 L218.1,255.4 L218.6,255.5 L219.1,255.5 L219.6,255.5 L220.1,255.6 L220.6,255.6 L221.1,255.6 L221.6,255.6 L222.1,255.6 L222.6,255.6 L223.1,255.6 L223.6,255.6 L224.1,255.6 L224.6,255.6 L225.1,255.6 L225.6,255.6 L226.1,255.6 L226.6,255.6 L227.1,255.6 L227.6,255.6 L228.1,255.6 L228.6,255.6 L229.1,255.6 L229.6,255.6 L230.1,255.6 L230.6,255.6 L231.1,255.6 L231.6,255.6 L232.1,255.6 L232.6,255.6 L233.1,255.6 L233.6,255.6 L234.1,255.6 L234.6,255.6 L235.1,255.6 L235.6,255.6 L236.1,255.6 L236.6,255.6 L237.1,255.6 L237.6,255.6 L238.1,255.6 L238.6,255.6 L239.1,255.6 L239.6,255.6 L240.1,255.6 L240.6,255.6 L241.1,255.6 L241.6,255.6 L242.1,255.6 L242.6,255.6 L243.1,255.6 L243.6,255.6 L244.1,255.6 L244.6,255.6 L245.1,255.6 L245.6,255.6 L246.1,255.6 L246.6,255.6 L247.1,255.6 L247.6,255.6 L248.1,255.6 L248.6,255.6 L249.1,255.6 L249.6,255.6 L250.1,255.6 L250.6,255.6 L251.1,255.6 L251.6,255.6 L252.1,255.6 L252.6,255.6 L253.1,255.6 L253.6,255.6 L254.1,255.6 L254.6,255.6 L255.1,255.6 L255.6,255.6 L256.1,255.6 L256.6,255.6 L257.1,255.6 L257.6,255.6 L258.1,255.6 L258.6,255.6 L259.1,255.6 L259.6,255.6 L260.1,255.6 L260.6,255.6 L261.1,255.6 L261.6,255.6 L262.1,255.6 L262.6,255.6 L263.1,255.6 L263.6,255.6 L264.1,255.6 L264.6,255.6 L265.1,255.6 L265.6,255.6 L266.1,255.6 L266.6,255.6 L267.1,255.6 L267.6,255.6 L268.1,255.6 L268.6,255.6 L269.1,255.6 L269.6,255.6 L269.6,255.6 L183.1,255.6 Z" fill="#d0d0d0" stroke="none"/>
<path d="M182.6,168.2 H269.8 V255.6" fill="none" stroke="#727272" stroke-width="0.85"/>
<path d="M182.6,168.2 V255.6" fill="none" stroke="#727272" stroke-width="0.85"/>
<path d="M182.6,255.6 H269.8" fill="none" stroke="#727272" stroke-width="0.85"/>
<path d="M183.1,255.4 L183.6,255.4 L184.1,255.4 L184.6,255.4 L185.1,255.4 L185.6,255.4 L186.1,255.4 L186.6,255.4 L187.1,255.4 L187.6,255.4 L188.1,255.3 L188.6,255.2 L189.1,255.0 L189.6,254.9 L190.1,254.7 L190.6,254.4 L191.1,254.0 L191.6,253.5 L192.1,253.0 L192.6,252.2 L193.1,251.3 L193.6,250.2 L194.1,249.0 L194.6,247.7 L195.1,245.8 L195.6,243.4 L196.1,240.8 L196.6,237.6 L197.1,234.3 L197.6,231.0 L198.1,226.2 L198.6,220.7 L199.1,216.7 L199.6,209.9 L200.1,203.0 L200.6,197.1 L201.1,191.7 L201.6,187.5 L202.1,184.9 L202.6,177.2 L203.1,173.9 L203.6,175.1 L204.1,178.7 L204.6,182.3 L205.1,185.5 L205.6,189.2 L206.1,190.3 L206.6,193.4 L207.1,199.1 L207.6,205.5 L208.1,207.8 L208.6,212.4 L209.1,215.8 L209.6,218.0 L210.1,221.6 L210.6,225.4 L211.1,229.2 L211.6,232.1 L212.1,233.9 L212.6,236.1 L213.1,239.1 L213.6,241.4 L214.1,243.4 L214.6,245.1 L215.1,246.2 L215.6,247.2 L216.1,248.4 L216.6,249.3 L217.1,250.4 L217.6,251.3 L218.1,251.8 L218.6,252.4 L219.1,252.9 L219.6,253.4 L220.1,253.8 L220.6,254.1 L221.1,254.3 L221.6,254.5 L222.1,254.7 L222.6,254.9 L223.1,255.0 L223.6,255.1 L224.1,255.2 L224.6,255.3 L225.1,255.3 L225.6,255.4 L226.1,255.4 L226.6,255.4 L227.1,255.4 L227.6,255.4 L228.1,255.4 L228.6,255.4 L229.1,255.4 L229.6,255.4 L230.1,255.4 L230.6,255.4 L231.1,255.4 L231.6,255.4 L232.1,255.4 L232.6,255.4 L233.1,255.4 L233.6,255.4 L234.1,255.4 L234.6,255.4 L235.1,255.4 L235.6,255.4 L236.1,255.4 L236.6,255.4 L237.1,255.4 L237.6,255.4 L238.1,255.4 L238.6,255.4 L239.1,255.4 L239.6,255.4 L240.1,255.4 L240.6,255.4 L241.1,255.4 L241.6,255.4 L242.1,255.4 L242.6,255.4 L243.1,255.4 L243.6,255.4 L244.1,255.4 L244.6,255.4 L245.1,255.4 L245.6,255.4 L246.1,255.4 L246.6,255.4 L247.1,255.4 L247.6,255.4 L248.1,255.4 L248.6,255.4 L249.1,255.4 L249.6,255.4 L250.1,255.4 L250.6,255.4 L251.1,255.4 L251.6,255.4 L252.1,255.4 L252.6,255.4 L253.1,255.4 L253.6,255.4 L254.1,255.4 L254.6,255.4 L255.1,255.4 L255.6,255.4 L256.1,255.4 L256.6,255.4 L257.1,255.4 L257.6,255.4 L258.1,255.4 L258.6,255.4 L259.1,255.4 L259.6,255.4 L260.1,255.4 L260.6,255.4 L261.1,255.4 L261.6,255.4 L262.1,255.4 L262.6,255.4 L263.1,255.4 L263.6,255.4 L264.1,255.4 L264.6,255.4 L265.1,255.4 L265.6,255.4 L266.1,255.4 L266.6,255.4 L267.1,255.4 L267.6,255.4 L268.1,255.4 L268.6,255.4 L269.1,255.4 L269.6,255.4" fill="none" stroke="#333" stroke-width="0.6" stroke-linejoin="miter"/>
<path d="M183.1,255.6 L183.6,255.6 L184.1,255.5 L184.6,255.5 L185.1,255.5 L185.6,255.5 L186.1,255.4 L186.6,255.4 L187.1,255.3 L187.6,255.2 L188.1,255.1 L188.6,255.0 L189.1,254.9 L189.6,254.7 L190.1,254.4 L190.6,254.1 L191.1,253.6 L191.6,253.2 L192.1,252.7 L192.6,252.1 L193.1,251.2 L193.6,250.3 L194.1,249.0 L194.6,247.7 L195.1,246.1 L195.6,244.1 L196.1,241.9 L196.6,239.7 L197.1,236.8 L197.6,234.4 L198.1,231.6 L198.6,227.3 L199.1,222.5 L199.6,218.0 L200.1,211.9 L200.6,206.3 L201.1,200.5 L201.6,194.3 L202.1,188.1 L202.6,183.1 L203.1,178.4 L203.6,176.4 L204.1,173.9 L204.6,175.1 L205.1,179.4 L205.6,183.8 L206.1,186.7 L206.6,189.9 L207.1,194.9 L207.6,197.6 L208.1,202.5 L208.6,207.4 L209.1,211.4 L209.6,214.1 L210.1,217.8 L210.6,218.8 L211.1,221.3 L211.6,224.7 L212.1,228.4 L212.6,231.1 L213.1,233.7 L213.6,235.9 L214.1,238.1 L214.6,240.5 L215.1,242.6 L215.6,244.1 L216.1,245.6 L216.6,247.1 L217.1,248.3 L217.6,249.3 L218.1,250.1 L218.6,250.6 L219.1,251.3 L219.6,252.1 L220.1,252.6 L220.6,253.1 L221.1,253.5 L221.6,253.8 L222.1,254.0 L222.6,254.3 L223.1,254.5 L223.6,254.7 L224.1,254.9 L224.6,255.0 L225.1,255.1 L225.6,255.2 L226.1,255.3 L226.6,255.3 L227.1,255.4 L227.6,255.4 L228.1,255.4 L228.6,255.5 L229.1,255.5 L229.6,255.5 L230.1,255.5 L230.6,255.6 L231.1,255.6 L231.6,255.6 L232.1,255.6 L232.6,255.6 L233.1,255.6 L233.6,255.6 L234.1,255.6 L234.6,255.6 L235.1,255.6 L235.6,255.6 L236.1,255.6 L236.6,255.6 L237.1,255.6 L237.6,255.6 L238.1,255.6 L238.6,255.6 L239.1,255.6 L239.6,255.6 L240.1,255.6 L240.6,255.6 L241.1,255.6 L241.6,255.6 L242.1,255.6 L242.6,255.6 L243.1,255.6 L243.6,255.6 L244.1,255.6 L244.6,255.6 L245.1,255.6 L245.6,255.6 L246.1,255.6 L246.6,255.6 L247.1,255.6 L247.6,255.6 L248.1,255.6 L248.6,255.6 L249.1,255.6 L249.6,255.6 L250.1,255.6 L250.6,255.6 L251.1,255.6 L251.6,255.6 L252.1,255.6 L252.6,255.6 L253.1,255.6 L253.6,255.6 L254.1,255.6 L254.6,255.6 L255.1,255.6 L255.6,255.6 L256.1,255.6 L256.6,255.6 L257.1,255.6 L257.6,255.6 L258.1,255.6 L258.6,255.6 L259.1,255.6 L259.6,255.6 L260.1,255.6 L260.6,255.6 L261.1,255.6 L261.6,255.6 L262.1,255.6 L262.6,255.6 L263.1,255.6 L263.6,255.6 L264.1,255.6 L264.6,255.6 L265.1,255.6 L265.6,255.6 L266.1,255.6 L266.6,255.6 L267.1,255.6 L267.6,255.6 L268.1,255.6 L268.6,255.6 L269.1,255.6 L269.6,255.6" fill="none" stroke="#000" stroke-width="1.35" stroke-linejoin="round"/>
<path d="M180.3,255.60 H182.6 M180.3,239.02 H182.6 M180.3,222.44 H182.6 M180.3,205.86 H182.6 M180.3,189.28 H182.6 M180.3,172.70 H182.6 " stroke="#555" stroke-width="0.7" fill="none"/>
<path d="M181.5,251.45 H182.6 M181.5,247.31 H182.6 M181.5,243.16 H182.6 M181.5,234.88 H182.6 M181.5,230.73 H182.6 M181.5,226.58 H182.6 M181.5,218.29 H182.6 M181.5,214.15 H182.6 M181.5,210.00 H182.6 M181.5,201.72 H182.6 M181.5,197.57 H182.6 M181.5,193.43 H182.6 M181.5,185.13 H182.6 M181.5,180.99 H182.6 M181.5,176.84 H182.6 " stroke="#555" stroke-width="0.5" fill="none" opacity="0.8"/>
<text x="179.2" y="257.3" text-anchor="end" font-size="3.75" font-weight="bold" fill="#2a2a2a" stroke="#2a2a2a" stroke-width="0.1">0</text>
<text x="179.2" y="240.7" text-anchor="end" font-size="3.75" font-weight="bold" fill="#2a2a2a" stroke="#2a2a2a" stroke-width="0.1">20</text>
<text x="179.2" y="224.1" text-anchor="end" font-size="3.75" font-weight="bold" fill="#2a2a2a" stroke="#2a2a2a" stroke-width="0.1">40</text>
<text x="179.2" y="207.6" text-anchor="end" font-size="3.75" font-weight="bold" fill="#2a2a2a" stroke="#2a2a2a" stroke-width="0.1">60</text>
<text x="179.2" y="191.0" text-anchor="end" font-size="3.75" font-weight="bold" fill="#2a2a2a" stroke="#2a2a2a" stroke-width="0.1">80</text>
<text x="179.2" y="174.4" text-anchor="end" font-size="3.75" font-weight="bold" fill="#2a2a2a" stroke="#2a2a2a" stroke-width="0.1">100</text>
<path d="M188.76,255.6 v1.0 M192.60,255.6 v1.0 M195.32,255.6 v1.0 M197.44,255.6 v1.0 M199.16,255.6 v1.0 M200.62,255.6 v1.0 M201.89,255.6 v1.0 M203.00,255.6 v1.0 M204.00,255.6 v2.0 M210.56,255.6 v1.0 M214.40,255.6 v1.0 M217.12,255.6 v1.0 M219.24,255.6 v1.0 M220.96,255.6 v1.0 M222.42,255.6 v1.0 M223.69,255.6 v1.0 M224.80,255.6 v1.0 M225.80,255.6 v2.0 M232.36,255.6 v1.0 M236.20,255.6 v1.0 M238.92,255.6 v1.0 M241.04,255.6 v1.0 M242.76,255.6 v1.0 M244.22,255.6 v1.0 M245.49,255.6 v1.0 M246.60,255.6 v1.0 M247.60,255.6 v2.0 M254.16,255.6 v1.0 M258.00,255.6 v1.0 M260.72,255.6 v1.0 M262.84,255.6 v1.0 M264.56,255.6 v1.0 M266.02,255.6 v1.0 M267.29,255.6 v1.0 M268.40,255.6 v1.0 M269.40,255.6 v2.0 " stroke="#555" stroke-width="0.5" fill="none"/>
<text x="203.7" y="264.1" text-anchor="middle" font-size="3.75" font-weight="bold" fill="#2a2a2a" stroke="#2a2a2a" stroke-width="0.1">10<tspan dy="-1.6" font-size="2.70">0</tspan></text>
<text x="225.5" y="264.1" text-anchor="middle" font-size="3.75" font-weight="bold" fill="#2a2a2a" stroke="#2a2a2a" stroke-width="0.1">10<tspan dy="-1.6" font-size="2.70">1</tspan></text>
<text x="247.3" y="264.1" text-anchor="middle" font-size="3.75" font-weight="bold" fill="#2a2a2a" stroke="#2a2a2a" stroke-width="0.1">10<tspan dy="-1.6" font-size="2.70">2</tspan></text>
<text x="269.1" y="264.1" text-anchor="middle" font-size="3.75" font-weight="bold" fill="#2a2a2a" stroke="#2a2a2a" stroke-width="0.1">10<tspan dy="-1.6" font-size="2.70">3</tspan></text>
<path d="M319.2,255.5 L319.7,255.4 L320.2,255.3 L320.7,255.2 L321.2,255.1 L321.7,254.9 L322.2,254.8 L322.7,254.5 L323.2,254.1 L323.7,253.7 L324.2,253.1 L324.7,252.5 L325.2,251.7 L325.7,250.7 L326.2,249.5 L326.7,248.1 L327.2,246.5 L327.7,244.5 L328.2,242.0 L328.7,239.1 L329.2,235.6 L329.7,231.9 L330.2,227.6 L330.7,223.1 L331.2,218.5 L331.7,213.5 L332.2,208.7 L332.7,204.0 L333.2,199.5 L333.7,194.1 L334.2,188.8 L334.7,182.9 L335.2,178.4 L335.7,175.6 L336.2,174.4 L336.7,174.6 L337.2,176.0 L337.7,179.0 L338.2,183.4 L338.7,188.4 L339.2,194.3 L339.7,200.8 L340.2,206.0 L340.7,211.3 L341.2,216.2 L341.7,221.8 L342.2,226.3 L342.7,230.7 L343.2,234.6 L343.7,238.3 L344.2,241.3 L344.7,243.9 L345.2,246.0 L345.7,247.9 L346.2,249.5 L346.7,250.9 L347.2,252.0 L347.7,252.8 L348.2,253.5 L348.7,254.0 L349.2,254.4 L349.7,254.7 L350.2,255.0 L350.7,255.1 L351.2,255.3 L351.7,255.4 L352.2,255.4 L352.7,255.5 L353.2,255.5 L353.7,255.5 L354.2,255.6 L354.7,255.6 L355.2,255.6 L355.7,255.6 L356.2,255.6 L356.7,255.6 L357.2,255.6 L357.7,255.6 L358.2,255.6 L358.7,255.6 L359.2,255.6 L359.7,255.6 L360.2,255.6 L360.7,255.6 L361.2,255.6 L361.7,255.6 L362.2,255.6 L362.7,255.6 L363.2,255.6 L363.7,255.6 L364.2,255.6 L364.7,255.6 L365.2,255.6 L365.7,255.6 L366.2,255.6 L366.7,255.6 L367.2,255.6 L367.7,255.6 L368.2,255.6 L368.7,255.6 L369.2,255.6 L369.7,255.6 L370.2,255.6 L370.7,255.6 L371.2,255.6 L371.7,255.6 L372.2,255.6 L372.7,255.6 L373.2,255.6 L373.7,255.6 L374.2,255.6 L374.7,255.6 L375.2,255.6 L375.7,255.6 L376.2,255.6 L376.7,255.6 L377.2,255.6 L377.7,255.6 L378.2,255.6 L378.7,255.6 L379.2,255.6 L379.7,255.6 L380.2,255.6 L380.7,255.6 L381.2,255.6 L381.7,255.6 L382.2,255.6 L382.7,255.6 L383.2,255.6 L383.7,255.6 L384.2,255.6 L384.7,255.6 L385.2,255.6 L385.7,255.6 L386.2,255.6 L386.7,255.6 L387.2,255.6 L387.7,255.6 L388.2,255.6 L388.7,255.6 L389.2,255.6 L389.7,255.6 L390.2,255.6 L390.7,255.6 L391.2,255.6 L391.7,255.6 L392.2,255.6 L392.7,255.6 L393.2,255.6 L393.7,255.6 L394.2,255.6 L394.7,255.6 L395.2,255.6 L395.7,255.6 L396.2,255.6 L396.7,255.6 L397.2,255.6 L397.7,255.6 L398.2,255.6 L398.7,255.6 L399.2,255.6 L399.7,255.6 L400.2,255.6 L400.7,255.6 L401.2,255.6 L401.7,255.6 L402.2,255.6 L402.7,255.6 L403.2,255.6 L403.7,255.6 L404.2,255.6 L404.2,255.6 L319.2,255.6 Z" fill="#d0d0d0" stroke="none"/>
<path d="M318.7,168.2 H404.6 V255.6" fill="none" stroke="#727272" stroke-width="0.85"/>
<path d="M318.7,168.2 V255.6" fill="none" stroke="#727272" stroke-width="0.85"/>
<path d="M318.7,255.6 H404.6" fill="none" stroke="#727272" stroke-width="0.85"/>
<path d="M319.2,255.4 L319.7,255.4 L320.2,255.4 L320.7,255.4 L321.2,255.4 L321.7,255.4 L322.2,255.4 L322.7,255.4 L323.2,255.4 L323.7,255.4 L324.2,255.4 L324.7,255.4 L325.2,255.4 L325.7,255.4 L326.2,255.4 L326.7,255.4 L327.2,255.4 L327.7,255.4 L328.2,255.4 L328.7,255.4 L329.2,255.4 L329.7,255.4 L330.2,255.4 L330.7,255.4 L331.2,255.4 L331.7,255.4 L332.2,255.4 L332.7,255.4 L333.2,255.4 L333.7,255.4 L334.2,255.4 L334.7,255.4 L335.2,255.4 L335.7,255.3 L336.2,255.2 L336.7,255.1 L337.2,254.9 L337.7,254.7 L338.2,254.4 L338.7,254.1 L339.2,253.7 L339.7,253.3 L340.2,252.8 L340.7,252.0 L341.2,251.1 L341.7,249.9 L342.2,248.4 L342.7,246.6 L343.2,242.7 L343.7,237.8 L344.2,234.0 L344.7,230.3 L345.2,226.9 L345.7,222.7 L346.2,217.8 L346.7,211.6 L347.2,204.8 L347.7,196.6 L348.2,191.0 L348.7,184.0 L349.2,177.5 L349.7,181.0 L350.2,178.7 L350.7,174.1 L351.2,174.7 L351.7,174.0 L352.2,173.6 L352.7,177.0 L353.2,182.0 L353.7,183.3 L354.2,183.1 L354.7,184.1 L355.2,184.6 L355.7,181.2 L356.2,179.1 L356.7,178.0 L357.2,179.1 L357.7,177.7 L358.2,180.9 L358.7,183.5 L359.2,185.6 L359.7,186.0 L360.2,186.5 L360.7,187.6 L361.2,191.1 L361.7,195.4 L362.2,197.9 L362.7,201.5 L363.2,205.6 L363.7,211.7 L364.2,216.0 L364.7,220.4 L365.2,224.2 L365.7,228.6 L366.2,232.4 L366.7,235.5 L367.2,237.8 L367.7,240.5 L368.2,242.9 L368.7,245.2 L369.2,247.5 L369.7,249.6 L370.2,251.2 L370.7,252.5 L371.2,253.5 L371.7,254.1 L372.2,254.6 L372.7,255.1 L373.2,255.4 L373.7,255.4 L374.2,255.4 L374.7,255.4 L375.2,255.4 L375.7,255.4 L376.2,255.4 L376.7,255.4 L377.2,255.4 L377.7,255.4 L378.2,255.4 L378.7,255.4 L379.2,255.4 L379.7,255.4 L380.2,255.4 L380.7,255.4 L381.2,255.4 L381.7,255.4 L382.2,255.4 L382.7,255.4 L383.2,255.4 L383.7,255.4 L384.2,255.4 L384.7,255.4 L385.2,255.4 L385.7,255.4 L386.2,255.4 L386.7,255.4 L387.2,255.4 L387.7,255.4 L388.2,255.4 L388.7,255.4 L389.2,255.4 L389.7,255.4 L390.2,255.4 L390.7,255.4 L391.2,255.4 L391.7,255.4 L392.2,255.4 L392.7,255.4 L393.2,255.4 L393.7,255.4 L394.2,255.4 L394.7,255.4 L395.2,255.4 L395.7,255.4 L396.2,255.4 L396.7,255.4 L397.2,255.4 L397.7,255.4 L398.2,255.4 L398.7,255.4 L399.2,255.4 L399.7,255.4 L400.2,255.4 L400.7,255.4 L401.2,255.4 L401.7,255.4 L402.2,255.4 L402.7,255.4 L403.2,255.4 L403.7,255.4 L404.2,255.4" fill="none" stroke="#333" stroke-width="0.6" stroke-linejoin="miter"/>
<path d="M319.2,255.6 L319.7,255.6 L320.2,255.6 L320.7,255.6 L321.2,255.6 L321.7,255.6 L322.2,255.6 L322.7,255.6 L323.2,255.6 L323.7,255.6 L324.2,255.6 L324.7,255.6 L325.2,255.6 L325.7,255.6 L326.2,255.6 L326.7,255.6 L327.2,255.6 L327.7,255.6 L328.2,255.6 L328.7,255.6 L329.2,255.6 L329.7,255.6 L330.2,255.6 L330.7,255.6 L331.2,255.6 L331.7,255.6 L332.2,255.6 L332.7,255.6 L333.2,255.6 L333.7,255.6 L334.2,255.6 L334.7,255.6 L335.2,255.6 L335.7,255.6 L336.2,255.6 L336.7,255.6 L337.2,255.5 L337.7,255.4 L338.2,255.3 L338.7,255.2 L339.2,255.1 L339.7,254.9 L340.2,254.7 L340.7,254.3 L341.2,253.9 L341.7,253.4 L342.2,252.9 L342.7,252.2 L343.2,251.3 L343.7,250.3 L344.2,249.2 L344.7,248.1 L345.2,246.8 L345.7,245.4 L346.2,243.9 L346.7,242.2 L347.2,240.6 L347.7,238.3 L348.2,235.4 L348.7,232.1 L349.2,229.0 L349.7,225.3 L350.2,220.6 L350.7,215.3 L351.2,210.6 L351.7,205.7 L352.2,202.0 L352.7,201.1 L353.2,194.5 L353.7,186.9 L354.2,181.5 L354.7,178.4 L355.2,179.9 L355.7,182.9 L356.2,176.3 L356.7,174.5 L357.2,174.9 L357.7,175.2 L358.2,173.5 L358.7,173.5 L359.2,178.1 L359.7,182.7 L360.2,186.3 L360.7,187.9 L361.2,189.8 L361.7,192.1 L362.2,197.5 L362.7,202.2 L363.2,206.4 L363.7,208.7 L364.2,212.8 L364.7,217.1 L365.2,220.8 L365.7,225.6 L366.2,229.0 L366.7,231.9 L367.2,235.3 L367.7,239.0 L368.2,241.7 L368.7,244.2 L369.2,246.2 L369.7,248.0 L370.2,249.4 L370.7,250.9 L371.2,252.3 L371.7,253.5 L372.2,254.3 L372.7,254.7 L373.2,255.0 L373.7,255.2 L374.2,255.3 L374.7,255.5 L375.2,255.5 L375.7,255.6 L376.2,255.6 L376.7,255.6 L377.2,255.6 L377.7,255.6 L378.2,255.6 L378.7,255.6 L379.2,255.6 L379.7,255.6 L380.2,255.6 L380.7,255.6 L381.2,255.6 L381.7,255.6 L382.2,255.6 L382.7,255.6 L383.2,255.6 L383.7,255.6 L384.2,255.6 L384.7,255.6 L385.2,255.6 L385.7,255.6 L386.2,255.6 L386.7,255.6 L387.2,255.6 L387.7,255.6 L388.2,255.6 L388.7,255.6 L389.2,255.6 L389.7,255.6 L390.2,255.6 L390.7,255.6 L391.2,255.6 L391.7,255.6 L392.2,255.6 L392.7,255.6 L393.2,255.6 L393.7,255.6 L394.2,255.6 L394.7,255.6 L395.2,255.6 L395.7,255.6 L396.2,255.6 L396.7,255.6 L397.2,255.6 L397.7,255.6 L398.2,255.6 L398.7,255.6 L399.2,255.6 L399.7,255.6 L400.2,255.6 L400.7,255.6 L401.2,255.6 L401.7,255.6 L402.2,255.6 L402.7,255.6 L403.2,255.6 L403.7,255.6 L404.2,255.6" fill="none" stroke="#000" stroke-width="1.35" stroke-linejoin="round"/>
<path d="M316.4,255.60 H318.7 M316.4,239.02 H318.7 M316.4,222.44 H318.7 M316.4,205.86 H318.7 M316.4,189.28 H318.7 M316.4,172.70 H318.7 " stroke="#555" stroke-width="0.7" fill="none"/>
<path d="M317.6,251.45 H318.7 M317.6,247.31 H318.7 M317.6,243.16 H318.7 M317.6,234.88 H318.7 M317.6,230.73 H318.7 M317.6,226.58 H318.7 M317.6,218.29 H318.7 M317.6,214.15 H318.7 M317.6,210.00 H318.7 M317.6,201.72 H318.7 M317.6,197.57 H318.7 M317.6,193.43 H318.7 M317.6,185.13 H318.7 M317.6,180.99 H318.7 M317.6,176.84 H318.7 " stroke="#555" stroke-width="0.5" fill="none" opacity="0.8"/>
<text x="315.3" y="257.3" text-anchor="end" font-size="3.75" font-weight="bold" fill="#2a2a2a" stroke="#2a2a2a" stroke-width="0.1">0</text>
<text x="315.3" y="240.7" text-anchor="end" font-size="3.75" font-weight="bold" fill="#2a2a2a" stroke="#2a2a2a" stroke-width="0.1">20</text>
<text x="315.3" y="224.1" text-anchor="end" font-size="3.75" font-weight="bold" fill="#2a2a2a" stroke="#2a2a2a" stroke-width="0.1">40</text>
<text x="315.3" y="207.6" text-anchor="end" font-size="3.75" font-weight="bold" fill="#2a2a2a" stroke="#2a2a2a" stroke-width="0.1">60</text>
<text x="315.3" y="191.0" text-anchor="end" font-size="3.75" font-weight="bold" fill="#2a2a2a" stroke="#2a2a2a" stroke-width="0.1">80</text>
<text x="315.3" y="174.4" text-anchor="end" font-size="3.75" font-weight="bold" fill="#2a2a2a" stroke="#2a2a2a" stroke-width="0.1">100</text>
<path d="M323.96,255.6 v1.0 M327.80,255.6 v1.0 M330.52,255.6 v1.0 M332.64,255.6 v1.0 M334.36,255.6 v1.0 M335.82,255.6 v1.0 M337.09,255.6 v1.0 M338.20,255.6 v1.0 M339.20,255.6 v2.0 M345.76,255.6 v1.0 M349.60,255.6 v1.0 M352.32,255.6 v1.0 M354.44,255.6 v1.0 M356.16,255.6 v1.0 M357.62,255.6 v1.0 M358.89,255.6 v1.0 M360.00,255.6 v1.0 M361.00,255.6 v2.0 M367.56,255.6 v1.0 M371.40,255.6 v1.0 M374.12,255.6 v1.0 M376.24,255.6 v1.0 M377.96,255.6 v1.0 M379.42,255.6 v1.0 M380.69,255.6 v1.0 M381.80,255.6 v1.0 M382.80,255.6 v2.0 M389.36,255.6 v1.0 M393.20,255.6 v1.0 M395.92,255.6 v1.0 M398.04,255.6 v1.0 M399.76,255.6 v1.0 M401.22,255.6 v1.0 M402.49,255.6 v1.0 M403.60,255.6 v1.0 M404.60,255.6 v2.0 " stroke="#555" stroke-width="0.5" fill="none"/>
<text x="338.9" y="264.1" text-anchor="middle" font-size="3.75" font-weight="bold" fill="#2a2a2a" stroke="#2a2a2a" stroke-width="0.1">10<tspan dy="-1.6" font-size="2.70">0</tspan></text>
<text x="360.7" y="264.1" text-anchor="middle" font-size="3.75" font-weight="bold" fill="#2a2a2a" stroke="#2a2a2a" stroke-width="0.1">10<tspan dy="-1.6" font-size="2.70">1</tspan></text>
<text x="382.5" y="264.1" text-anchor="middle" font-size="3.75" font-weight="bold" fill="#2a2a2a" stroke="#2a2a2a" stroke-width="0.1">10<tspan dy="-1.6" font-size="2.70">2</tspan></text>
<text x="404.3" y="264.1" text-anchor="middle" font-size="3.75" font-weight="bold" fill="#2a2a2a" stroke="#2a2a2a" stroke-width="0.1">10<tspan dy="-1.6" font-size="2.70">3</tspan></text>
<path d="M47.4,419.6 L47.9,419.6 L48.4,419.6 L48.9,419.6 L49.4,419.6 L49.9,419.6 L50.4,419.6 L50.9,419.6 L51.4,419.6 L51.9,419.6 L52.4,419.6 L52.9,419.6 L53.4,419.6 L53.9,419.6 L54.4,419.6 L54.9,419.6 L55.4,419.6 L55.9,419.6 L56.4,419.6 L56.9,419.6 L57.4,419.6 L57.9,419.6 L58.4,419.6 L58.9,419.6 L59.4,419.6 L59.9,419.6 L60.4,419.6 L60.9,419.6 L61.4,419.6 L61.9,419.6 L62.4,419.6 L62.9,419.6 L63.4,419.6 L63.9,419.6 L64.4,419.6 L64.9,419.6 L65.4,419.6 L65.9,419.6 L66.4,419.6 L66.9,419.6 L67.4,419.6 L67.9,419.6 L68.4,419.6 L68.9,419.6 L69.4,419.6 L69.9,419.6 L70.4,419.6 L70.9,419.6 L71.4,419.6 L71.9,419.6 L72.4,419.6 L72.9,419.6 L73.4,419.6 L73.9,419.5 L74.4,419.5 L74.9,419.5 L75.4,419.4 L75.9,419.3 L76.4,419.2 L76.9,419.1 L77.4,418.9 L77.9,418.6 L78.4,418.2 L78.9,417.7 L79.4,417.0 L79.9,416.1 L80.4,415.0 L80.9,413.4 L81.4,411.5 L81.9,409.2 L82.4,406.5 L82.9,403.0 L83.4,399.2 L83.9,394.9 L84.4,390.0 L84.9,384.2 L85.4,378.2 L85.9,372.2 L86.4,366.4 L86.9,360.3 L87.4,353.7 L87.9,348.0 L88.4,344.9 L88.9,342.9 L89.4,342.7 L89.9,343.9 L90.4,347.9 L90.9,354.8 L91.4,362.5 L91.9,368.2 L92.4,374.1 L92.9,379.7 L93.4,386.0 L93.9,391.8 L94.4,396.4 L94.9,400.3 L95.4,403.9 L95.9,407.3 L96.4,409.9 L96.9,412.1 L97.4,413.8 L97.9,415.2 L98.4,416.3 L98.9,417.2 L99.4,417.8 L99.9,418.3 L100.4,418.6 L100.9,418.9 L101.4,419.1 L101.9,419.3 L102.4,419.4 L102.9,419.4 L103.4,419.5 L103.9,419.5 L104.4,419.6 L104.9,419.6 L105.4,419.6 L105.9,419.6 L106.4,419.6 L106.9,419.6 L107.4,419.6 L107.9,419.6 L108.4,419.6 L108.9,419.6 L109.4,419.6 L109.9,419.6 L110.4,419.6 L110.9,419.6 L111.4,419.6 L111.9,419.6 L112.4,419.6 L112.9,419.6 L113.4,419.6 L113.9,419.6 L114.4,419.6 L114.9,419.6 L115.4,419.6 L115.9,419.6 L116.4,419.6 L116.9,419.6 L117.4,419.6 L117.9,419.6 L118.4,419.6 L118.9,419.6 L119.4,419.6 L119.9,419.6 L120.4,419.6 L120.9,419.6 L121.4,419.6 L121.9,419.6 L122.4,419.6 L122.9,419.6 L123.4,419.6 L123.9,419.6 L124.4,419.6 L124.9,419.6 L125.4,419.6 L125.9,419.6 L126.4,419.6 L126.9,419.6 L127.4,419.6 L127.9,419.6 L128.4,419.6 L128.9,419.6 L129.4,419.6 L129.9,419.6 L130.4,419.6 L130.9,419.6 L131.4,419.6 L131.9,419.6 L131.9,419.6 L47.4,419.6 Z" fill="#d0d0d0" stroke="none"/>
<path d="M46.9,334.1 H132.2 V419.6" fill="none" stroke="#c2c2c2" stroke-width="0.85"/>
<path d="M46.9,334.1 V419.6" fill="none" stroke="#dcdcdc" stroke-width="0.85"/>
<path d="M46.9,419.6 H132.2" fill="none" stroke="#c2c2c2" stroke-width="0.85"/>
<path d="M47.4,419.4 L47.9,419.4 L48.4,419.4 L48.9,419.4 L49.4,419.4 L49.9,419.4 L50.4,419.4 L50.9,419.4 L51.4,419.4 L51.9,419.4 L52.4,419.4 L52.9,419.4 L53.4,419.4 L53.9,419.4 L54.4,419.4 L54.9,419.4 L55.4,419.4 L55.9,419.4 L56.4,419.4 L56.9,419.4 L57.4,419.4 L57.9,419.4 L58.4,419.4 L58.9,419.4 L59.4,419.4 L59.9,419.4 L60.4,419.4 L60.9,419.4 L61.4,419.4 L61.9,419.4 L62.4,419.4 L62.9,419.4 L63.4,419.4 L63.9,419.4 L64.4,419.4 L64.9,419.4 L65.4,419.4 L65.9,419.4 L66.4,419.4 L66.9,419.4 L67.4,419.4 L67.9,419.4 L68.4,419.4 L68.9,419.4 L69.4,419.4 L69.9,419.4 L70.4,419.4 L70.9,419.4 L71.4,419.4 L71.9,419.4 L72.4,419.4 L72.9,419.4 L73.4,419.4 L73.9,419.4 L74.4,419.4 L74.9,419.4 L75.4,419.4 L75.9,419.4 L76.4,419.4 L76.9,419.4 L77.4,419.4 L77.9,419.4 L78.4,419.4 L78.9,419.4 L79.4,419.4 L79.9,419.4 L80.4,419.4 L80.9,419.4 L81.4,419.4 L81.9,419.4 L82.4,419.4 L82.9,419.4 L83.4,419.4 L83.9,419.4 L84.4,419.4 L84.9,419.4 L85.4,419.4 L85.9,419.4 L86.4,419.4 L86.9,419.3 L87.4,419.3 L87.9,419.2 L88.4,419.1 L88.9,419.1 L89.4,419.0 L89.9,418.8 L90.4,418.6 L90.9,418.6 L91.4,418.4 L91.9,418.1 L92.4,417.8 L92.9,417.4 L93.4,417.0 L93.9,416.7 L94.4,416.3 L94.9,415.8 L95.4,415.1 L95.9,414.3 L96.4,413.6 L96.9,413.0 L97.4,411.9 L97.9,410.8 L98.4,409.2 L98.9,408.5 L99.4,407.7 L99.9,406.0 L100.4,403.9 L100.9,401.8 L101.4,399.2 L101.9,397.2 L102.4,396.3 L102.9,394.6 L103.4,392.5 L103.9,389.1 L104.4,385.3 L104.9,382.5 L105.4,380.6 L105.9,378.9 L106.4,375.1 L106.9,372.2 L107.4,369.4 L107.9,366.8 L108.4,363.9 L108.9,362.1 L109.4,358.0 L109.9,354.8 L110.4,351.9 L110.9,350.7 L111.4,348.2 L111.9,344.0 L112.4,341.9 L112.9,346.8 L113.4,347.8 L113.9,346.5 L114.4,348.8 L114.9,350.5 L115.4,349.1 L115.9,348.5 L116.4,350.8 L116.9,355.0 L117.4,361.3 L117.9,367.0 L118.4,374.1 L118.9,379.5 L119.4,385.4 L119.9,390.5 L120.4,395.3 L120.9,399.7 L121.4,403.7 L121.9,405.9 L122.4,407.9 L122.9,410.4 L123.4,412.8 L123.9,414.5 L124.4,415.8 L124.9,416.8 L125.4,417.6 L125.9,418.2 L126.4,418.6 L126.9,418.9 L127.4,419.1 L127.9,419.3 L128.4,419.4 L128.9,419.4 L129.4,419.4 L129.9,419.4 L130.4,419.4 L130.9,419.4 L131.4,419.4 L131.9,419.4" fill="none" stroke="#333" stroke-width="0.6" stroke-linejoin="miter"/>
<path d="M47.4,419.6 L47.9,419.6 L48.4,419.6 L48.9,419.6 L49.4,419.6 L49.9,419.6 L50.4,419.6 L50.9,419.6 L51.4,419.6 L51.9,419.6 L52.4,419.6 L52.9,419.6 L53.4,419.6 L53.9,419.6 L54.4,419.6 L54.9,419.6 L55.4,419.6 L55.9,419.6 L56.4,419.6 L56.9,419.6 L57.4,419.6 L57.9,419.6 L58.4,419.6 L58.9,419.6 L59.4,419.6 L59.9,419.6 L60.4,419.6 L60.9,419.6 L61.4,419.6 L61.9,419.6 L62.4,419.6 L62.9,419.6 L63.4,419.6 L63.9,419.6 L64.4,419.6 L64.9,419.6 L65.4,419.6 L65.9,419.6 L66.4,419.6 L66.9,419.6 L67.4,419.6 L67.9,419.6 L68.4,419.6 L68.9,419.6 L69.4,419.6 L69.9,419.6 L70.4,419.6 L70.9,419.6 L71.4,419.6 L71.9,419.6 L72.4,419.6 L72.9,419.6 L73.4,419.6 L73.9,419.6 L74.4,419.6 L74.9,419.6 L75.4,419.6 L75.9,419.6 L76.4,419.6 L76.9,419.6 L77.4,419.6 L77.9,419.6 L78.4,419.6 L78.9,419.6 L79.4,419.6 L79.9,419.6 L80.4,419.6 L80.9,419.6 L81.4,419.6 L81.9,419.6 L82.4,419.6 L82.9,419.6 L83.4,419.6 L83.9,419.6 L84.4,419.6 L84.9,419.5 L85.4,419.5 L85.9,419.5 L86.4,419.5 L86.9,419.5 L87.4,419.5 L87.9,419.4 L88.4,419.4 L88.9,419.4 L89.4,419.3 L89.9,419.3 L90.4,419.2 L90.9,419.2 L91.4,419.1 L91.9,419.1 L92.4,419.0 L92.9,418.9 L93.4,418.8 L93.9,418.7 L94.4,418.6 L94.9,418.4 L95.4,418.3 L95.9,418.1 L96.4,418.0 L96.9,417.7 L97.4,417.5 L97.9,417.3 L98.4,417.1 L98.9,416.9 L99.4,416.8 L99.9,416.6 L100.4,416.3 L100.9,416.1 L101.4,415.8 L101.9,415.4 L102.4,415.1 L102.9,414.9 L103.4,414.6 L103.9,414.1 L104.4,413.6 L104.9,413.4 L105.4,413.1 L105.9,412.6 L106.4,411.8 L106.9,411.0 L107.4,410.0 L107.9,409.1 L108.4,408.1 L108.9,407.6 L109.4,407.0 L109.9,405.7 L110.4,403.5 L110.9,401.7 L111.4,398.9 L111.9,396.1 L112.4,392.1 L112.9,387.7 L113.4,384.1 L113.9,382.1 L114.4,377.8 L114.9,373.4 L115.4,366.9 L115.9,362.2 L116.4,355.1 L116.9,349.1 L117.4,341.9 L117.9,342.7 L118.4,348.9 L118.9,356.1 L119.4,356.7 L119.9,360.4 L120.4,365.9 L120.9,370.9 L121.4,377.2 L121.9,386.0 L122.4,394.0 L122.9,401.9 L123.4,408.2 L123.9,412.7 L124.4,415.6 L124.9,417.4 L125.4,418.5 L125.9,419.1 L126.4,419.4 L126.9,419.5 L127.4,419.6 L127.9,419.6 L128.4,419.6 L128.9,419.6 L129.4,419.6 L129.9,419.6 L130.4,419.6 L130.9,419.6 L131.4,419.6 L131.9,419.6" fill="none" stroke="#000" stroke-width="1.35" stroke-linejoin="round"/>
<path d="M44.6,419.60 H46.9 M44.6,403.50 H46.9 M44.6,387.40 H46.9 M44.6,371.30 H46.9 M44.6,355.20 H46.9 M44.6,339.10 H46.9 " stroke="#111" stroke-width="0.7" fill="none"/>
<path d="M45.8,415.58 H46.9 M45.8,411.55 H46.9 M45.8,407.53 H46.9 M45.8,399.48 H46.9 M45.8,395.45 H46.9 M45.8,391.43 H46.9 M45.8,383.38 H46.9 M45.8,379.35 H46.9 M45.8,375.33 H46.9 M45.8,367.28 H46.9 M45.8,363.25 H46.9 M45.8,359.23 H46.9 M45.8,351.18 H46.9 M45.8,347.15 H46.9 M45.8,343.12 H46.9 " stroke="#111" stroke-width="0.5" fill="none" opacity="0.8"/>
<text x="42.8" y="420.0" text-anchor="end" font-size="4.0" font-weight="bold" fill="#000" stroke="#000" stroke-width="0.25">0</text>
<text x="42.8" y="405.6" text-anchor="end" font-size="4.0" font-weight="bold" fill="#000" stroke="#000" stroke-width="0.25">20</text>
<text x="42.8" y="389.5" text-anchor="end" font-size="4.0" font-weight="bold" fill="#000" stroke="#000" stroke-width="0.25">40</text>
<text x="42.8" y="373.4" text-anchor="end" font-size="4.0" font-weight="bold" fill="#000" stroke="#000" stroke-width="0.25">60</text>
<text x="42.8" y="357.3" text-anchor="end" font-size="4.0" font-weight="bold" fill="#000" stroke="#000" stroke-width="0.25">80</text>
<text x="42.8" y="341.2" text-anchor="end" font-size="4.0" font-weight="bold" fill="#000" stroke="#000" stroke-width="0.25">100</text>
<path d="M49.62,419.6 v1.4 M51.66,419.6 v1.4 M53.33,419.6 v1.4 M54.74,419.6 v1.4 M55.96,419.6 v1.4 M57.04,419.6 v1.4 M58.00,419.6 v2.8 M64.34,419.6 v1.4 M68.05,419.6 v1.4 M70.69,419.6 v1.4 M72.73,419.6 v1.4 M74.40,419.6 v1.4 M75.81,419.6 v1.4 M77.03,419.6 v1.4 M78.11,419.6 v1.4 M79.07,419.6 v2.8 M85.41,419.6 v1.4 M89.12,419.6 v1.4 M91.76,419.6 v1.4 M93.80,419.6 v1.4 M95.47,419.6 v1.4 M96.88,419.6 v1.4 M98.10,419.6 v1.4 M99.18,419.6 v1.4 M100.14,419.6 v2.8 M106.48,419.6 v1.4 M110.19,419.6 v1.4 M112.83,419.6 v1.4 M114.87,419.6 v1.4 M116.54,419.6 v1.4 M117.95,419.6 v1.4 M119.17,419.6 v1.4 M120.25,419.6 v1.4 M121.21,419.6 v2.8 M127.55,419.6 v1.4 M131.26,419.6 v1.4 " stroke="#111" stroke-width="0.8" fill="none"/>
<text x="57.7" y="429.7" text-anchor="middle" font-size="4.3" font-weight="bold" fill="#000" stroke="#000" stroke-width="0.32">10<tspan dy="-1.6" font-size="3.10">2</tspan></text>
<text x="78.8" y="429.7" text-anchor="middle" font-size="4.3" font-weight="bold" fill="#000" stroke="#000" stroke-width="0.32">10<tspan dy="-1.6" font-size="3.10">3</tspan></text>
<text x="99.8" y="429.7" text-anchor="middle" font-size="4.3" font-weight="bold" fill="#000" stroke="#000" stroke-width="0.32">10<tspan dy="-1.6" font-size="3.10">4</tspan></text>
<text x="120.9" y="429.7" text-anchor="middle" font-size="4.3" font-weight="bold" fill="#000" stroke="#000" stroke-width="0.32">10<tspan dy="-1.6" font-size="3.10">5</tspan></text>
<path d="M182.9,420.5 L183.4,420.4 L183.9,420.4 L184.4,420.4 L184.9,420.3 L185.4,420.2 L185.9,420.1 L186.4,419.9 L186.9,419.6 L187.4,419.2 L187.9,418.7 L188.4,417.9 L188.9,417.0 L189.4,415.9 L189.9,414.3 L190.4,412.2 L190.9,409.7 L191.4,406.5 L191.9,402.6 L192.4,398.0 L192.9,392.7 L193.4,385.8 L193.9,378.9 L194.4,371.1 L194.9,364.1 L195.4,355.5 L195.9,348.8 L196.4,343.4 L196.9,339.5 L197.4,341.0 L197.9,347.4 L198.4,355.8 L198.9,363.0 L199.4,370.0 L199.9,378.2 L200.4,386.6 L200.9,392.4 L201.4,397.1 L201.9,402.0 L202.4,406.2 L202.9,409.5 L203.4,412.0 L203.9,414.2 L204.4,415.8 L204.9,417.0 L205.4,418.0 L205.9,418.7 L206.4,419.2 L206.9,419.6 L207.4,419.9 L207.9,420.1 L208.4,420.2 L208.9,420.3 L209.4,420.4 L209.9,420.4 L210.4,420.4 L210.9,420.5 L211.4,420.5 L211.9,420.5 L212.4,420.5 L212.9,420.5 L213.4,420.5 L213.9,420.5 L214.4,420.5 L214.9,420.5 L215.4,420.5 L215.9,420.5 L216.4,420.5 L216.9,420.5 L217.4,420.5 L217.9,420.5 L218.4,420.5 L218.9,420.5 L219.4,420.5 L219.9,420.5 L220.4,420.5 L220.9,420.5 L221.4,420.5 L221.9,420.5 L222.4,420.5 L222.9,420.5 L223.4,420.5 L223.9,420.5 L224.4,420.5 L224.9,420.5 L225.4,420.5 L225.9,420.5 L226.4,420.5 L226.9,420.5 L227.4,420.5 L227.9,420.5 L228.4,420.5 L228.9,420.5 L229.4,420.5 L229.9,420.5 L230.4,420.5 L230.9,420.5 L231.4,420.5 L231.9,420.5 L232.4,420.5 L232.9,420.5 L233.4,420.5 L233.9,420.5 L234.4,420.5 L234.9,420.5 L235.4,420.5 L235.9,420.5 L236.4,420.5 L236.9,420.5 L237.4,420.5 L237.9,420.5 L238.4,420.5 L238.9,420.5 L239.4,420.5 L239.9,420.5 L240.4,420.5 L240.9,420.5 L241.4,420.5 L241.9,420.5 L242.4,420.5 L242.9,420.5 L243.4,420.5 L243.9,420.5 L244.4,420.5 L244.9,420.5 L245.4,420.5 L245.9,420.5 L246.4,420.5 L246.9,420.5 L247.4,420.5 L247.9,420.5 L248.4,420.5 L248.9,420.5 L249.4,420.5 L249.9,420.5 L250.4,420.5 L250.9,420.5 L251.4,420.5 L251.9,420.5 L252.4,420.5 L252.9,420.5 L253.4,420.5 L253.9,420.5 L254.4,420.5 L254.9,420.5 L255.4,420.5 L255.9,420.5 L256.4,420.5 L256.9,420.5 L257.4,420.5 L257.9,420.5 L258.4,420.5 L258.9,420.5 L259.4,420.5 L259.9,420.5 L260.4,420.5 L260.9,420.5 L261.4,420.5 L261.9,420.5 L262.4,420.5 L262.9,420.5 L263.4,420.5 L263.9,420.5 L264.4,420.5 L264.9,420.5 L265.4,420.5 L265.9,420.5 L266.4,420.5 L266.9,420.5 L267.4,420.5 L267.9,420.5 L268.4,420.5 L268.9,420.5 L268.9,420.5 L182.9,420.5 Z" fill="#d0d0d0" stroke="none"/>
<path d="M269.5,334.0 V420.5" fill="none" stroke="#a0a0a0" stroke-width="0.85"/>
<path d="M182.4,334.0 V420.5" fill="none" stroke="#858585" stroke-width="0.85"/>
<path d="M182.4,420.5 H269.5" fill="none" stroke="#a0a0a0" stroke-width="0.85"/>
<path d="M182.9,420.3 L183.4,420.3 L183.9,420.3 L184.4,420.3 L184.9,420.3 L185.4,420.3 L185.9,420.3 L186.4,420.3 L186.9,420.3 L187.4,420.3 L187.9,420.3 L188.4,420.3 L188.9,420.3 L189.4,420.3 L189.9,420.3 L190.4,420.3 L190.9,420.3 L191.4,420.3 L191.9,420.3 L192.4,420.3 L192.9,420.3 L193.4,420.3 L193.9,420.3 L194.4,420.3 L194.9,420.3 L195.4,420.3 L195.9,420.3 L196.4,420.3 L196.9,420.3 L197.4,420.3 L197.9,420.3 L198.4,420.3 L198.9,420.3 L199.4,420.1 L199.9,419.8 L200.4,418.9 L200.9,417.6 L201.4,415.2 L201.9,411.0 L202.4,405.9 L202.9,398.8 L203.4,390.4 L203.9,380.6 L204.4,372.1 L204.9,365.7 L205.4,359.6 L205.9,353.7 L206.4,348.0 L206.9,345.8 L207.4,347.1 L207.9,347.5 L208.4,345.6 L208.9,343.7 L209.4,343.0 L209.9,341.3 L210.4,339.3 L210.9,338.7 L211.4,340.2 L211.9,342.2 L212.4,345.2 L212.9,349.0 L213.4,352.4 L213.9,355.1 L214.4,359.7 L214.9,367.1 L215.4,375.2 L215.9,382.7 L216.4,390.7 L216.9,398.0 L217.4,404.5 L217.9,409.3 L218.4,413.2 L218.9,416.1 L219.4,417.8 L219.9,419.1 L220.4,419.8 L220.9,420.0 L221.4,420.2 L221.9,420.3 L222.4,420.3 L222.9,420.3 L223.4,420.3 L223.9,420.3 L224.4,420.3 L224.9,420.3 L225.4,420.3 L225.9,420.3 L226.4,420.3 L226.9,420.3 L227.4,420.3 L227.9,420.3 L228.4,420.3 L228.9,420.3 L229.4,420.3 L229.9,420.3 L230.4,420.3 L230.9,420.3 L231.4,420.3 L231.9,420.3 L232.4,420.3 L232.9,420.3 L233.4,420.3 L233.9,420.3 L234.4,420.3 L234.9,420.3 L235.4,420.3 L235.9,420.3 L236.4,420.3 L236.9,420.3 L237.4,420.3 L237.9,420.3 L238.4,420.3 L238.9,420.3 L239.4,420.3 L239.9,420.3 L240.4,420.3 L240.9,420.3 L241.4,420.3 L241.9,420.3 L242.4,420.3 L242.9,420.3 L243.4,420.3 L243.9,420.3 L244.4,420.3 L244.9,420.3 L245.4,420.3 L245.9,420.3 L246.4,420.3 L246.9,420.3 L247.4,420.3 L247.9,420.3 L248.4,420.3 L248.9,420.3 L249.4,420.3 L249.9,420.3 L250.4,420.3 L250.9,420.3 L251.4,420.3 L251.9,420.3 L252.4,420.3 L252.9,420.3 L253.4,420.3 L253.9,420.3 L254.4,420.3 L254.9,420.3 L255.4,420.3 L255.9,420.3 L256.4,420.3 L256.9,420.3 L257.4,420.3 L257.9,420.3 L258.4,420.3 L258.9,420.3 L259.4,420.3 L259.9,420.3 L260.4,420.3 L260.9,420.3 L261.4,420.3 L261.9,420.3 L262.4,420.3 L262.9,420.3 L263.4,420.3 L263.9,420.3 L264.4,420.3 L264.9,420.3 L265.4,420.3 L265.9,420.3 L266.4,420.3 L266.9,420.3 L267.4,420.3 L267.9,420.3 L268.4,420.3 L268.9,420.3" fill="none" stroke="#333" stroke-width="0.6" stroke-linejoin="miter"/>
<path d="M182.9,420.5 L183.4,420.5 L183.9,420.5 L184.4,420.5 L184.9,420.5 L185.4,420.5 L185.9,420.5 L186.4,420.5 L186.9,420.5 L187.4,420.5 L187.9,420.5 L188.4,420.5 L188.9,420.5 L189.4,420.5 L189.9,420.5 L190.4,420.5 L190.9,420.5 L191.4,420.5 L191.9,420.5 L192.4,420.5 L192.9,420.5 L193.4,420.5 L193.9,420.5 L194.4,420.5 L194.9,420.5 L195.4,420.5 L195.9,420.5 L196.4,420.5 L196.9,420.5 L197.4,420.5 L197.9,420.5 L198.4,420.5 L198.9,420.4 L199.4,420.4 L199.9,420.3 L200.4,420.1 L200.9,419.8 L201.4,419.3 L201.9,417.6 L202.4,413.9 L202.9,408.8 L203.4,400.4 L203.9,391.1 L204.4,381.2 L204.9,373.4 L205.4,367.2 L205.9,360.4 L206.4,350.8 L206.9,343.5 L207.4,340.1 L207.9,339.2 L208.4,340.1 L208.9,342.5 L209.4,342.6 L209.9,341.1 L210.4,341.8 L210.9,340.9 L211.4,346.0 L211.9,356.5 L212.4,357.4 L212.9,357.3 L213.4,360.0 L213.9,367.7 L214.4,377.4 L214.9,385.2 L215.4,391.2 L215.9,397.0 L216.4,403.1 L216.9,409.1 L217.4,413.5 L217.9,416.8 L218.4,419.0 L218.9,419.6 L219.4,420.0 L219.9,420.2 L220.4,420.3 L220.9,420.4 L221.4,420.5 L221.9,420.5 L222.4,420.5 L222.9,420.5 L223.4,420.5 L223.9,420.5 L224.4,420.5 L224.9,420.5 L225.4,420.5 L225.9,420.5 L226.4,420.5 L226.9,420.5 L227.4,420.5 L227.9,420.5 L228.4,420.5 L228.9,420.5 L229.4,420.5 L229.9,420.5 L230.4,420.5 L230.9,420.5 L231.4,420.5 L231.9,420.5 L232.4,420.5 L232.9,420.5 L233.4,420.5 L233.9,420.5 L234.4,420.5 L234.9,420.5 L235.4,420.5 L235.9,420.5 L236.4,420.5 L236.9,420.5 L237.4,420.5 L237.9,420.5 L238.4,420.5 L238.9,420.5 L239.4,420.5 L239.9,420.5 L240.4,420.5 L240.9,420.5 L241.4,420.5 L241.9,420.5 L242.4,420.5 L242.9,420.5 L243.4,420.5 L243.9,420.5 L244.4,420.5 L244.9,420.5 L245.4,420.5 L245.9,420.5 L246.4,420.5 L246.9,420.5 L247.4,420.5 L247.9,420.5 L248.4,420.5 L248.9,420.5 L249.4,420.5 L249.9,420.5 L250.4,420.5 L250.9,420.5 L251.4,420.5 L251.9,420.5 L252.4,420.5 L252.9,420.5 L253.4,420.5 L253.9,420.5 L254.4,420.5 L254.9,420.5 L255.4,420.5 L255.9,420.5 L256.4,420.5 L256.9,420.5 L257.4,420.5 L257.9,420.5 L258.4,420.5 L258.9,420.5 L259.4,420.5 L259.9,420.5 L260.4,420.5 L260.9,420.5 L261.4,420.5 L261.9,420.5 L262.4,420.5 L262.9,420.5 L263.4,420.5 L263.9,420.5 L264.4,420.5 L264.9,420.5 L265.4,420.5 L265.9,420.5 L266.4,420.5 L266.9,420.5 L267.4,420.5 L267.9,420.5 L268.4,420.5 L268.9,420.5" fill="none" stroke="#000" stroke-width="1.35" stroke-linejoin="round"/>
<path d="M180.1,420.50 H182.4 M180.1,403.96 H182.4 M180.1,387.42 H182.4 M180.1,370.88 H182.4 M180.1,354.34 H182.4 M180.1,337.80 H182.4 " stroke="#555" stroke-width="0.7" fill="none"/>
<path d="M181.3,416.37 H182.4 M181.3,412.23 H182.4 M181.3,408.10 H182.4 M181.3,399.82 H182.4 M181.3,395.69 H182.4 M181.3,391.56 H182.4 M181.3,383.29 H182.4 M181.3,379.15 H182.4 M181.3,375.01 H182.4 M181.3,366.75 H182.4 M181.3,362.61 H182.4 M181.3,358.48 H182.4 M181.3,350.21 H182.4 M181.3,346.07 H182.4 M181.3,341.94 H182.4 " stroke="#555" stroke-width="0.5" fill="none" opacity="0.8"/>
<text x="179.0" y="422.2" text-anchor="end" font-size="3.75" font-weight="bold" fill="#2a2a2a" stroke="#2a2a2a" stroke-width="0.1">0</text>
<text x="179.0" y="405.7" text-anchor="end" font-size="3.75" font-weight="bold" fill="#2a2a2a" stroke="#2a2a2a" stroke-width="0.1">20</text>
<text x="179.0" y="389.1" text-anchor="end" font-size="3.75" font-weight="bold" fill="#2a2a2a" stroke="#2a2a2a" stroke-width="0.1">40</text>
<text x="179.0" y="372.6" text-anchor="end" font-size="3.75" font-weight="bold" fill="#2a2a2a" stroke="#2a2a2a" stroke-width="0.1">60</text>
<text x="179.0" y="356.0" text-anchor="end" font-size="3.75" font-weight="bold" fill="#2a2a2a" stroke="#2a2a2a" stroke-width="0.1">80</text>
<text x="179.0" y="339.5" text-anchor="end" font-size="3.75" font-weight="bold" fill="#2a2a2a" stroke="#2a2a2a" stroke-width="0.1">100</text>
<path d="M188.86,420.5 v1.0 M192.70,420.5 v1.0 M195.42,420.5 v1.0 M197.54,420.5 v1.0 M199.26,420.5 v1.0 M200.72,420.5 v1.0 M201.99,420.5 v1.0 M203.10,420.5 v1.0 M204.10,420.5 v2.0 M210.66,420.5 v1.0 M214.50,420.5 v1.0 M217.22,420.5 v1.0 M219.34,420.5 v1.0 M221.06,420.5 v1.0 M222.52,420.5 v1.0 M223.79,420.5 v1.0 M224.90,420.5 v1.0 M225.90,420.5 v2.0 M232.46,420.5 v1.0 M236.30,420.5 v1.0 M239.02,420.5 v1.0 M241.14,420.5 v1.0 M242.86,420.5 v1.0 M244.32,420.5 v1.0 M245.59,420.5 v1.0 M246.70,420.5 v1.0 M247.70,420.5 v2.0 M254.26,420.5 v1.0 M258.10,420.5 v1.0 M260.82,420.5 v1.0 M262.94,420.5 v1.0 M264.66,420.5 v1.0 M266.12,420.5 v1.0 M267.39,420.5 v1.0 M268.50,420.5 v1.0 M269.50,420.5 v2.0 " stroke="#555" stroke-width="0.5" fill="none"/>
<text x="203.8" y="429.0" text-anchor="middle" font-size="3.75" font-weight="bold" fill="#2a2a2a" stroke="#2a2a2a" stroke-width="0.1">10<tspan dy="-1.6" font-size="2.70">0</tspan></text>
<text x="225.6" y="429.0" text-anchor="middle" font-size="3.75" font-weight="bold" fill="#2a2a2a" stroke="#2a2a2a" stroke-width="0.1">10<tspan dy="-1.6" font-size="2.70">1</tspan></text>
<text x="247.4" y="429.0" text-anchor="middle" font-size="3.75" font-weight="bold" fill="#2a2a2a" stroke="#2a2a2a" stroke-width="0.1">10<tspan dy="-1.6" font-size="2.70">2</tspan></text>
<text x="269.2" y="429.0" text-anchor="middle" font-size="3.75" font-weight="bold" fill="#2a2a2a" stroke="#2a2a2a" stroke-width="0.1">10<tspan dy="-1.6" font-size="2.70">3</tspan></text>
<path d="M318.7,420.4 L319.2,420.4 L319.7,420.4 L320.2,420.3 L320.7,420.3 L321.2,420.2 L321.7,420.0 L322.2,419.8 L322.7,419.6 L323.2,419.2 L323.7,418.7 L324.2,418.2 L324.7,417.3 L325.2,416.2 L325.7,414.8 L326.2,413.0 L326.7,410.8 L327.2,408.0 L327.7,404.7 L328.2,400.8 L328.7,396.4 L329.2,391.3 L329.7,385.9 L330.2,379.6 L330.7,372.7 L331.2,366.5 L331.7,360.0 L332.2,353.0 L332.7,346.2 L333.2,340.8 L333.7,339.5 L334.2,342.8 L334.7,347.7 L335.2,354.4 L335.7,361.5 L336.2,368.2 L336.7,374.8 L337.2,381.4 L337.7,387.8 L338.2,393.3 L338.7,398.0 L339.2,402.4 L339.7,406.2 L340.2,409.2 L340.7,411.6 L341.2,413.7 L341.7,415.4 L342.2,416.6 L342.7,417.6 L343.2,418.4 L343.7,418.9 L344.2,419.3 L344.7,419.7 L345.2,419.9 L345.7,420.1 L346.2,420.2 L346.7,420.3 L347.2,420.4 L347.7,420.4 L348.2,420.4 L348.7,420.5 L349.2,420.5 L349.7,420.5 L350.2,420.5 L350.7,420.5 L351.2,420.5 L351.7,420.5 L352.2,420.5 L352.7,420.5 L353.2,420.5 L353.7,420.5 L354.2,420.5 L354.7,420.5 L355.2,420.5 L355.7,420.5 L356.2,420.5 L356.7,420.5 L357.2,420.5 L357.7,420.5 L358.2,420.5 L358.7,420.5 L359.2,420.5 L359.7,420.5 L360.2,420.5 L360.7,420.5 L361.2,420.5 L361.7,420.5 L362.2,420.5 L362.7,420.5 L363.2,420.5 L363.7,420.5 L364.2,420.5 L364.7,420.5 L365.2,420.5 L365.7,420.5 L366.2,420.5 L366.7,420.5 L367.2,420.5 L367.7,420.5 L368.2,420.5 L368.7,420.5 L369.2,420.5 L369.7,420.5 L370.2,420.5 L370.7,420.5 L371.2,420.5 L371.7,420.5 L372.2,420.5 L372.7,420.5 L373.2,420.5 L373.7,420.5 L374.2,420.5 L374.7,420.5 L375.2,420.5 L375.7,420.5 L376.2,420.5 L376.7,420.5 L377.2,420.5 L377.7,420.5 L378.2,420.5 L378.7,420.5 L379.2,420.5 L379.7,420.5 L380.2,420.5 L380.7,420.5 L381.2,420.5 L381.7,420.5 L382.2,420.5 L382.7,420.5 L383.2,420.5 L383.7,420.5 L384.2,420.5 L384.7,420.5 L385.2,420.5 L385.7,420.5 L386.2,420.5 L386.7,420.5 L387.2,420.5 L387.7,420.5 L388.2,420.5 L388.7,420.5 L389.2,420.5 L389.7,420.5 L390.2,420.5 L390.7,420.5 L391.2,420.5 L391.7,420.5 L392.2,420.5 L392.7,420.5 L393.2,420.5 L393.7,420.5 L394.2,420.5 L394.7,420.5 L395.2,420.5 L395.7,420.5 L396.2,420.5 L396.7,420.5 L397.2,420.5 L397.7,420.5 L398.2,420.5 L398.7,420.5 L399.2,420.5 L399.7,420.5 L400.2,420.5 L400.7,420.5 L401.2,420.5 L401.7,420.5 L402.2,420.5 L402.7,420.5 L403.2,420.5 L403.7,420.5 L404.2,420.5 L404.7,420.5 L404.7,420.5 L318.7,420.5 Z" fill="#d0d0d0" stroke="none"/>
<path d="M405.1,334.0 V420.5" fill="none" stroke="#a0a0a0" stroke-width="0.85"/>
<path d="M318.2,334.0 V420.5" fill="none" stroke="#858585" stroke-width="0.85"/>
<path d="M318.2,420.5 H405.1" fill="none" stroke="#a0a0a0" stroke-width="0.85"/>
<path d="M318.7,420.3 L319.2,420.3 L319.7,420.3 L320.2,420.3 L320.7,420.3 L321.2,420.3 L321.7,420.3 L322.2,420.3 L322.7,420.3 L323.2,420.3 L323.7,420.3 L324.2,420.3 L324.7,420.3 L325.2,420.3 L325.7,420.3 L326.2,420.3 L326.7,420.3 L327.2,420.3 L327.7,420.3 L328.2,420.3 L328.7,420.3 L329.2,420.3 L329.7,420.2 L330.2,420.0 L330.7,419.5 L331.2,418.7 L331.7,417.5 L332.2,415.7 L332.7,412.9 L333.2,408.9 L333.7,403.0 L334.2,395.7 L334.7,387.4 L335.2,378.7 L335.7,368.3 L336.2,360.7 L336.7,351.3 L337.2,343.4 L337.7,340.0 L338.2,340.4 L338.7,342.7 L339.2,350.3 L339.7,356.2 L340.2,363.6 L340.7,371.6 L341.2,381.0 L341.7,389.4 L342.2,397.2 L342.7,403.3 L343.2,408.2 L343.7,411.7 L344.2,414.6 L344.7,416.8 L345.2,418.2 L345.7,419.1 L346.2,419.7 L346.7,420.0 L347.2,420.3 L347.7,420.3 L348.2,420.3 L348.7,420.3 L349.2,420.3 L349.7,420.3 L350.2,420.3 L350.7,420.3 L351.2,420.3 L351.7,420.3 L352.2,420.3 L352.7,420.3 L353.2,420.3 L353.7,420.3 L354.2,420.3 L354.7,420.3 L355.2,420.3 L355.7,420.3 L356.2,420.3 L356.7,420.3 L357.2,420.3 L357.7,420.3 L358.2,420.3 L358.7,420.3 L359.2,420.3 L359.7,420.3 L360.2,420.3 L360.7,420.3 L361.2,420.3 L361.7,420.3 L362.2,420.3 L362.7,420.3 L363.2,420.3 L363.7,420.3 L364.2,420.3 L364.7,420.3 L365.2,420.3 L365.7,420.3 L366.2,420.3 L366.7,420.3 L367.2,420.3 L367.7,420.3 L368.2,420.3 L368.7,420.3 L369.2,420.3 L369.7,420.3 L370.2,420.3 L370.7,420.3 L371.2,420.3 L371.7,420.3 L372.2,420.3 L372.7,420.3 L373.2,420.3 L373.7,420.3 L374.2,420.3 L374.7,420.3 L375.2,420.3 L375.7,420.3 L376.2,420.3 L376.7,420.3 L377.2,420.3 L377.7,420.3 L378.2,420.3 L378.7,420.3 L379.2,420.3 L379.7,420.3 L380.2,420.3 L380.7,420.3 L381.2,420.3 L381.7,420.3 L382.2,420.3 L382.7,420.3 L383.2,420.3 L383.7,420.3 L384.2,420.3 L384.7,420.3 L385.2,420.3 L385.7,420.3 L386.2,420.3 L386.7,420.3 L387.2,420.3 L387.7,420.3 L388.2,420.3 L388.7,420.3 L389.2,420.3 L389.7,420.3 L390.2,420.3 L390.7,420.3 L391.2,420.3 L391.7,420.3 L392.2,420.3 L392.7,420.3 L393.2,420.3 L393.7,420.3 L394.2,420.3 L394.7,420.3 L395.2,420.3 L395.7,420.3 L396.2,420.3 L396.7,420.3 L397.2,420.3 L397.7,420.3 L398.2,420.3 L398.7,420.3 L399.2,420.3 L399.7,420.3 L400.2,420.3 L400.7,420.3 L401.2,420.3 L401.7,420.3 L402.2,420.3 L402.7,420.3 L403.2,420.3 L403.7,420.3 L404.2,420.3 L404.7,420.3" fill="none" stroke="#333" stroke-width="0.6" stroke-linejoin="miter"/>
<path d="M318.7,420.5 L319.2,420.5 L319.7,420.5 L320.2,420.5 L320.7,420.5 L321.2,420.5 L321.7,420.5 L322.2,420.5 L322.7,420.5 L323.2,420.5 L323.7,420.5 L324.2,420.5 L324.7,420.5 L325.2,420.5 L325.7,420.5 L326.2,420.5 L326.7,420.5 L327.2,420.5 L327.7,420.5 L328.2,420.5 L328.7,420.5 L329.2,420.4 L329.7,420.3 L330.2,420.1 L330.7,419.7 L331.2,419.1 L331.7,418.0 L332.2,416.3 L332.7,413.8 L333.2,410.2 L333.7,405.0 L334.2,398.5 L334.7,390.1 L335.2,380.7 L335.7,371.5 L336.2,361.9 L336.7,353.9 L337.2,345.3 L337.7,340.0 L338.2,340.2 L338.7,343.3 L339.2,345.3 L339.7,351.3 L340.2,359.4 L340.7,369.2 L341.2,379.4 L341.7,389.0 L342.2,397.6 L342.7,404.0 L343.2,409.1 L343.7,412.7 L344.2,415.4 L344.7,417.3 L345.2,418.6 L345.7,419.4 L346.2,419.9 L346.7,420.2 L347.2,420.3 L347.7,420.4 L348.2,420.5 L348.7,420.5 L349.2,420.5 L349.7,420.5 L350.2,420.5 L350.7,420.5 L351.2,420.5 L351.7,420.5 L352.2,420.5 L352.7,420.5 L353.2,420.5 L353.7,420.5 L354.2,420.5 L354.7,420.5 L355.2,420.5 L355.7,420.5 L356.2,420.5 L356.7,420.5 L357.2,420.5 L357.7,420.5 L358.2,420.5 L358.7,420.5 L359.2,420.5 L359.7,420.5 L360.2,420.5 L360.7,420.5 L361.2,420.5 L361.7,420.5 L362.2,420.5 L362.7,420.5 L363.2,420.5 L363.7,420.5 L364.2,420.5 L364.7,420.5 L365.2,420.5 L365.7,420.5 L366.2,420.5 L366.7,420.5 L367.2,420.5 L367.7,420.5 L368.2,420.5 L368.7,420.5 L369.2,420.5 L369.7,420.5 L370.2,420.5 L370.7,420.5 L371.2,420.5 L371.7,420.5 L372.2,420.5 L372.7,420.5 L373.2,420.5 L373.7,420.5 L374.2,420.5 L374.7,420.5 L375.2,420.5 L375.7,420.5 L376.2,420.5 L376.7,420.5 L377.2,420.5 L377.7,420.5 L378.2,420.5 L378.7,420.5 L379.2,420.5 L379.7,420.5 L380.2,420.5 L380.7,420.5 L381.2,420.5 L381.7,420.5 L382.2,420.5 L382.7,420.5 L383.2,420.5 L383.7,420.5 L384.2,420.5 L384.7,420.5 L385.2,420.5 L385.7,420.5 L386.2,420.5 L386.7,420.5 L387.2,420.5 L387.7,420.5 L388.2,420.5 L388.7,420.5 L389.2,420.5 L389.7,420.5 L390.2,420.5 L390.7,420.5 L391.2,420.5 L391.7,420.5 L392.2,420.5 L392.7,420.5 L393.2,420.5 L393.7,420.5 L394.2,420.5 L394.7,420.5 L395.2,420.5 L395.7,420.5 L396.2,420.5 L396.7,420.5 L397.2,420.5 L397.7,420.5 L398.2,420.5 L398.7,420.5 L399.2,420.5 L399.7,420.5 L400.2,420.5 L400.7,420.5 L401.2,420.5 L401.7,420.5 L402.2,420.5 L402.7,420.5 L403.2,420.5 L403.7,420.5 L404.2,420.5 L404.7,420.5" fill="none" stroke="#000" stroke-width="1.35" stroke-linejoin="round"/>
<path d="M315.9,420.50 H318.2 M315.9,403.96 H318.2 M315.9,387.42 H318.2 M315.9,370.88 H318.2 M315.9,354.34 H318.2 M315.9,337.80 H318.2 " stroke="#555" stroke-width="0.7" fill="none"/>
<path d="M317.1,416.37 H318.2 M317.1,412.23 H318.2 M317.1,408.10 H318.2 M317.1,399.82 H318.2 M317.1,395.69 H318.2 M317.1,391.56 H318.2 M317.1,383.29 H318.2 M317.1,379.15 H318.2 M317.1,375.01 H318.2 M317.1,366.75 H318.2 M317.1,362.61 H318.2 M317.1,358.48 H318.2 M317.1,350.21 H318.2 M317.1,346.07 H318.2 M317.1,341.94 H318.2 " stroke="#555" stroke-width="0.5" fill="none" opacity="0.8"/>
<text x="314.8" y="422.2" text-anchor="end" font-size="3.75" font-weight="bold" fill="#2a2a2a" stroke="#2a2a2a" stroke-width="0.1">0</text>
<text x="314.8" y="405.7" text-anchor="end" font-size="3.75" font-weight="bold" fill="#2a2a2a" stroke="#2a2a2a" stroke-width="0.1">20</text>
<text x="314.8" y="389.1" text-anchor="end" font-size="3.75" font-weight="bold" fill="#2a2a2a" stroke="#2a2a2a" stroke-width="0.1">40</text>
<text x="314.8" y="372.6" text-anchor="end" font-size="3.75" font-weight="bold" fill="#2a2a2a" stroke="#2a2a2a" stroke-width="0.1">60</text>
<text x="314.8" y="356.0" text-anchor="end" font-size="3.75" font-weight="bold" fill="#2a2a2a" stroke="#2a2a2a" stroke-width="0.1">80</text>
<text x="314.8" y="339.5" text-anchor="end" font-size="3.75" font-weight="bold" fill="#2a2a2a" stroke="#2a2a2a" stroke-width="0.1">100</text>
<path d="M324.46,420.5 v1.0 M328.30,420.5 v1.0 M331.02,420.5 v1.0 M333.14,420.5 v1.0 M334.86,420.5 v1.0 M336.32,420.5 v1.0 M337.59,420.5 v1.0 M338.70,420.5 v1.0 M339.70,420.5 v2.0 M346.26,420.5 v1.0 M350.10,420.5 v1.0 M352.82,420.5 v1.0 M354.94,420.5 v1.0 M356.66,420.5 v1.0 M358.12,420.5 v1.0 M359.39,420.5 v1.0 M360.50,420.5 v1.0 M361.50,420.5 v2.0 M368.06,420.5 v1.0 M371.90,420.5 v1.0 M374.62,420.5 v1.0 M376.74,420.5 v1.0 M378.46,420.5 v1.0 M379.92,420.5 v1.0 M381.19,420.5 v1.0 M382.30,420.5 v1.0 M383.30,420.5 v2.0 M389.86,420.5 v1.0 M393.70,420.5 v1.0 M396.42,420.5 v1.0 M398.54,420.5 v1.0 M400.26,420.5 v1.0 M401.72,420.5 v1.0 M402.99,420.5 v1.0 M404.10,420.5 v1.0 M405.10,420.5 v2.0 " stroke="#555" stroke-width="0.5" fill="none"/>
<text x="339.4" y="429.0" text-anchor="middle" font-size="3.75" font-weight="bold" fill="#2a2a2a" stroke="#2a2a2a" stroke-width="0.1">10<tspan dy="-1.6" font-size="2.70">0</tspan></text>
<text x="361.2" y="429.0" text-anchor="middle" font-size="3.75" font-weight="bold" fill="#2a2a2a" stroke="#2a2a2a" stroke-width="0.1">10<tspan dy="-1.6" font-size="2.70">1</tspan></text>
<text x="383.0" y="429.0" text-anchor="middle" font-size="3.75" font-weight="bold" fill="#2a2a2a" stroke="#2a2a2a" stroke-width="0.1">10<tspan dy="-1.6" font-size="2.70">2</tspan></text>
<text x="404.8" y="429.0" text-anchor="middle" font-size="3.75" font-weight="bold" fill="#2a2a2a" stroke="#2a2a2a" stroke-width="0.1">10<tspan dy="-1.6" font-size="2.70">3</tspan></text>
<path d="M182.9,537.6 L183.4,537.6 L183.9,537.5 L184.4,537.5 L184.9,537.5 L185.4,537.4 L185.9,537.3 L186.4,537.1 L186.9,536.9 L187.4,536.6 L187.9,536.2 L188.4,535.7 L188.9,534.8 L189.4,533.7 L189.9,532.2 L190.4,530.2 L190.9,528.0 L191.4,525.3 L191.9,521.9 L192.4,517.7 L192.9,512.7 L193.4,506.2 L193.9,498.9 L194.4,492.3 L194.9,484.7 L195.4,476.1 L195.9,467.2 L196.4,461.2 L196.9,456.8 L197.4,461.0 L197.9,469.2 L198.4,477.4 L198.9,484.6 L199.4,492.8 L199.9,500.3 L200.4,507.8 L200.9,513.8 L201.4,518.6 L201.9,522.9 L202.4,526.4 L202.9,529.3 L203.4,531.4 L203.9,533.2 L204.4,534.4 L204.9,535.4 L205.4,536.0 L205.9,536.5 L206.4,536.8 L206.9,537.1 L207.4,537.3 L207.9,537.4 L208.4,537.5 L208.9,537.5 L209.4,537.5 L209.9,537.6 L210.4,537.6 L210.9,537.6 L211.4,537.6 L211.9,537.6 L212.4,537.6 L212.9,537.6 L213.4,537.6 L213.9,537.6 L214.4,537.6 L214.9,537.6 L215.4,537.6 L215.9,537.6 L216.4,537.6 L216.9,537.6 L217.4,537.6 L217.9,537.6 L218.4,537.6 L218.9,537.6 L219.4,537.6 L219.9,537.6 L220.4,537.6 L220.9,537.6 L221.4,537.6 L221.9,537.6 L222.4,537.6 L222.9,537.6 L223.4,537.6 L223.9,537.6 L224.4,537.6 L224.9,537.6 L225.4,537.6 L225.9,537.6 L226.4,537.6 L226.9,537.6 L227.4,537.6 L227.9,537.6 L228.4,537.6 L228.9,537.6 L229.4,537.6 L229.9,537.6 L230.4,537.6 L230.9,537.6 L231.4,537.6 L231.9,537.6 L232.4,537.6 L232.9,537.6 L233.4,537.6 L233.9,537.6 L234.4,537.6 L234.9,537.6 L235.4,537.6 L235.9,537.6 L236.4,537.6 L236.9,537.6 L237.4,537.6 L237.9,537.6 L238.4,537.6 L238.9,537.6 L239.4,537.6 L239.9,537.6 L240.4,537.6 L240.9,537.6 L241.4,537.6 L241.9,537.6 L242.4,537.6 L242.9,537.6 L243.4,537.6 L243.9,537.6 L244.4,537.6 L244.9,537.6 L245.4,537.6 L245.9,537.6 L246.4,537.6 L246.9,537.6 L247.4,537.6 L247.9,537.6 L248.4,537.6 L248.9,537.6 L249.4,537.6 L249.9,537.6 L250.4,537.6 L250.9,537.6 L251.4,537.6 L251.9,537.6 L252.4,537.6 L252.9,537.6 L253.4,537.6 L253.9,537.6 L254.4,537.6 L254.9,537.6 L255.4,537.6 L255.9,537.6 L256.4,537.6 L256.9,537.6 L257.4,537.6 L257.9,537.6 L258.4,537.6 L258.9,537.6 L259.4,537.6 L259.9,537.6 L260.4,537.6 L260.9,537.6 L261.4,537.6 L261.9,537.6 L262.4,537.6 L262.9,537.6 L263.4,537.6 L263.9,537.6 L264.4,537.6 L264.9,537.6 L265.4,537.6 L265.9,537.6 L266.4,537.6 L266.9,537.6 L267.4,537.6 L267.9,537.6 L268.4,537.6 L268.9,537.6 L268.9,537.6 L182.9,537.6 Z" fill="#d0d0d0" stroke="none"/>
<path d="M182.4,451.0 H269.5 V537.6" fill="none" stroke="#909090" stroke-width="0.85"/>
<path d="M182.4,451.0 V537.6" fill="none" stroke="#727272" stroke-width="0.85"/>
<path d="M182.4,537.6 H269.5" fill="none" stroke="#909090" stroke-width="0.85"/>
<path d="M182.9,537.4 L183.4,537.4 L183.9,537.4 L184.4,537.4 L184.9,537.4 L185.4,537.4 L185.9,537.4 L186.4,537.4 L186.9,537.4 L187.4,537.4 L187.9,537.4 L188.4,537.4 L188.9,537.4 L189.4,537.4 L189.9,537.4 L190.4,537.4 L190.9,537.4 L191.4,537.4 L191.9,537.4 L192.4,537.4 L192.9,537.3 L193.4,537.2 L193.9,536.9 L194.4,536.4 L194.9,535.8 L195.4,534.8 L195.9,533.4 L196.4,531.5 L196.9,528.9 L197.4,525.4 L197.9,521.0 L198.4,516.4 L198.9,511.6 L199.4,505.8 L199.9,500.2 L200.4,494.1 L200.9,486.8 L201.4,478.3 L201.9,473.3 L202.4,467.5 L202.9,462.0 L203.4,458.5 L203.9,458.2 L204.4,456.3 L204.9,457.5 L205.4,462.2 L205.9,468.4 L206.4,474.2 L206.9,479.3 L207.4,485.5 L207.9,491.6 L208.4,496.8 L208.9,502.8 L209.4,508.8 L209.9,514.2 L210.4,519.9 L210.9,524.8 L211.4,528.1 L211.9,530.5 L212.4,532.4 L212.9,533.9 L213.4,535.1 L213.9,536.0 L214.4,536.6 L214.9,537.0 L215.4,537.2 L215.9,537.4 L216.4,537.4 L216.9,537.4 L217.4,537.4 L217.9,537.4 L218.4,537.4 L218.9,537.4 L219.4,537.4 L219.9,537.4 L220.4,537.4 L220.9,537.4 L221.4,537.4 L221.9,537.4 L222.4,537.4 L222.9,537.4 L223.4,537.4 L223.9,537.4 L224.4,537.4 L224.9,537.4 L225.4,537.4 L225.9,537.4 L226.4,537.4 L226.9,537.4 L227.4,537.4 L227.9,537.4 L228.4,537.4 L228.9,537.4 L229.4,537.4 L229.9,537.4 L230.4,537.4 L230.9,537.4 L231.4,537.4 L231.9,537.4 L232.4,537.4 L232.9,537.4 L233.4,537.4 L233.9,537.4 L234.4,537.4 L234.9,537.4 L235.4,537.4 L235.9,537.4 L236.4,537.4 L236.9,537.4 L237.4,537.4 L237.9,537.4 L238.4,537.4 L238.9,537.4 L239.4,537.4 L239.9,537.4 L240.4,537.4 L240.9,537.4 L241.4,537.4 L241.9,537.4 L242.4,537.4 L242.9,537.4 L243.4,537.4 L243.9,537.4 L244.4,537.4 L244.9,537.4 L245.4,537.4 L245.9,537.4 L246.4,537.4 L246.9,537.4 L247.4,537.4 L247.9,537.4 L248.4,537.4 L248.9,537.4 L249.4,537.4 L249.9,537.4 L250.4,537.4 L250.9,537.4 L251.4,537.4 L251.9,537.4 L252.4,537.4 L252.9,537.4 L253.4,537.4 L253.9,537.4 L254.4,537.4 L254.9,537.4 L255.4,537.4 L255.9,537.4 L256.4,537.4 L256.9,537.4 L257.4,537.4 L257.9,537.4 L258.4,537.4 L258.9,537.4 L259.4,537.4 L259.9,537.4 L260.4,537.4 L260.9,537.4 L261.4,537.4 L261.9,537.4 L262.4,537.4 L262.9,537.4 L263.4,537.4 L263.9,537.4 L264.4,537.4 L264.9,537.4 L265.4,537.4 L265.9,537.4 L266.4,537.4 L266.9,537.4 L267.4,537.4 L267.9,537.4 L268.4,537.4 L268.9,537.4" fill="none" stroke="#333" stroke-width="0.6" stroke-linejoin="miter"/>
<path d="M182.9,537.6 L183.4,537.6 L183.9,537.6 L184.4,537.6 L184.9,537.6 L185.4,537.6 L185.9,537.6 L186.4,537.6 L186.9,537.6 L187.4,537.6 L187.9,537.6 L188.4,537.6 L188.9,537.6 L189.4,537.6 L189.9,537.6 L190.4,537.6 L190.9,537.6 L191.4,537.6 L191.9,537.6 L192.4,537.5 L192.9,537.5 L193.4,537.3 L193.9,537.1 L194.4,536.8 L194.9,536.3 L195.4,535.6 L195.9,534.4 L196.4,532.7 L196.9,530.3 L197.4,527.4 L197.9,524.0 L198.4,519.9 L198.9,515.1 L199.4,509.5 L199.9,504.0 L200.4,497.1 L200.9,489.8 L201.4,482.8 L201.9,477.1 L202.4,469.7 L202.9,462.8 L203.4,457.7 L203.9,456.3 L204.4,458.3 L204.9,462.2 L205.4,466.6 L205.9,470.9 L206.4,475.2 L206.9,478.6 L207.4,482.5 L207.9,488.9 L208.4,498.0 L208.9,505.8 L209.4,512.4 L209.9,518.2 L210.4,523.0 L210.9,526.7 L211.4,529.8 L211.9,532.2 L212.4,533.9 L212.9,535.3 L213.4,536.2 L213.9,536.8 L214.4,537.1 L214.9,537.3 L215.4,537.5 L215.9,537.5 L216.4,537.6 L216.9,537.6 L217.4,537.6 L217.9,537.6 L218.4,537.6 L218.9,537.6 L219.4,537.6 L219.9,537.6 L220.4,537.6 L220.9,537.6 L221.4,537.6 L221.9,537.6 L222.4,537.6 L222.9,537.6 L223.4,537.6 L223.9,537.6 L224.4,537.6 L224.9,537.6 L225.4,537.6 L225.9,537.6 L226.4,537.6 L226.9,537.6 L227.4,537.6 L227.9,537.6 L228.4,537.6 L228.9,537.6 L229.4,537.6 L229.9,537.6 L230.4,537.6 L230.9,537.6 L231.4,537.6 L231.9,537.6 L232.4,537.6 L232.9,537.6 L233.4,537.6 L233.9,537.6 L234.4,537.6 L234.9,537.6 L235.4,537.6 L235.9,537.6 L236.4,537.6 L236.9,537.6 L237.4,537.6 L237.9,537.6 L238.4,537.6 L238.9,537.6 L239.4,537.6 L239.9,537.6 L240.4,537.6 L240.9,537.6 L241.4,537.6 L241.9,537.6 L242.4,537.6 L242.9,537.6 L243.4,537.6 L243.9,537.6 L244.4,537.6 L244.9,537.6 L245.4,537.6 L245.9,537.6 L246.4,537.6 L246.9,537.6 L247.4,537.6 L247.9,537.6 L248.4,537.6 L248.9,537.6 L249.4,537.6 L249.9,537.6 L250.4,537.6 L250.9,537.6 L251.4,537.6 L251.9,537.6 L252.4,537.6 L252.9,537.6 L253.4,537.6 L253.9,537.6 L254.4,537.6 L254.9,537.6 L255.4,537.6 L255.9,537.6 L256.4,537.6 L256.9,537.6 L257.4,537.6 L257.9,537.6 L258.4,537.6 L258.9,537.6 L259.4,537.6 L259.9,537.6 L260.4,537.6 L260.9,537.6 L261.4,537.6 L261.9,537.6 L262.4,537.6 L262.9,537.6 L263.4,537.6 L263.9,537.6 L264.4,537.6 L264.9,537.6 L265.4,537.6 L265.9,537.6 L266.4,537.6 L266.9,537.6 L267.4,537.6 L267.9,537.6 L268.4,537.6 L268.9,537.6" fill="none" stroke="#000" stroke-width="1.35" stroke-linejoin="round"/>
<path d="M180.1,537.60 H182.4 M180.1,521.10 H182.4 M180.1,504.60 H182.4 M180.1,488.10 H182.4 M180.1,471.60 H182.4 M180.1,455.10 H182.4 " stroke="#555" stroke-width="0.7" fill="none"/>
<path d="M181.3,533.48 H182.4 M181.3,529.35 H182.4 M181.3,525.23 H182.4 M181.3,516.98 H182.4 M181.3,512.85 H182.4 M181.3,508.73 H182.4 M181.3,500.48 H182.4 M181.3,496.35 H182.4 M181.3,492.23 H182.4 M181.3,483.98 H182.4 M181.3,479.85 H182.4 M181.3,475.73 H182.4 M181.3,467.48 H182.4 M181.3,463.35 H182.4 M181.3,459.23 H182.4 " stroke="#555" stroke-width="0.5" fill="none" opacity="0.8"/>
<text x="179.0" y="539.3" text-anchor="end" font-size="3.75" font-weight="bold" fill="#2a2a2a" stroke="#2a2a2a" stroke-width="0.1">0</text>
<text x="179.0" y="522.8" text-anchor="end" font-size="3.75" font-weight="bold" fill="#2a2a2a" stroke="#2a2a2a" stroke-width="0.1">20</text>
<text x="179.0" y="506.3" text-anchor="end" font-size="3.75" font-weight="bold" fill="#2a2a2a" stroke="#2a2a2a" stroke-width="0.1">40</text>
<text x="179.0" y="489.8" text-anchor="end" font-size="3.75" font-weight="bold" fill="#2a2a2a" stroke="#2a2a2a" stroke-width="0.1">60</text>
<text x="179.0" y="473.3" text-anchor="end" font-size="3.75" font-weight="bold" fill="#2a2a2a" stroke="#2a2a2a" stroke-width="0.1">80</text>
<text x="179.0" y="456.8" text-anchor="end" font-size="3.75" font-weight="bold" fill="#2a2a2a" stroke="#2a2a2a" stroke-width="0.1">100</text>
<path d="M188.86,537.6 v1.0 M192.70,537.6 v1.0 M195.42,537.6 v1.0 M197.54,537.6 v1.0 M199.26,537.6 v1.0 M200.72,537.6 v1.0 M201.99,537.6 v1.0 M203.10,537.6 v1.0 M204.10,537.6 v2.0 M210.66,537.6 v1.0 M214.50,537.6 v1.0 M217.22,537.6 v1.0 M219.34,537.6 v1.0 M221.06,537.6 v1.0 M222.52,537.6 v1.0 M223.79,537.6 v1.0 M224.90,537.6 v1.0 M225.90,537.6 v2.0 M232.46,537.6 v1.0 M236.30,537.6 v1.0 M239.02,537.6 v1.0 M241.14,537.6 v1.0 M242.86,537.6 v1.0 M244.32,537.6 v1.0 M245.59,537.6 v1.0 M246.70,537.6 v1.0 M247.70,537.6 v2.0 M254.26,537.6 v1.0 M258.10,537.6 v1.0 M260.82,537.6 v1.0 M262.94,537.6 v1.0 M264.66,537.6 v1.0 M266.12,537.6 v1.0 M267.39,537.6 v1.0 M268.50,537.6 v1.0 M269.50,537.6 v2.0 " stroke="#555" stroke-width="0.5" fill="none"/>
<text x="203.8" y="546.1" text-anchor="middle" font-size="3.75" font-weight="bold" fill="#2a2a2a" stroke="#2a2a2a" stroke-width="0.1">10<tspan dy="-1.6" font-size="2.70">0</tspan></text>
<text x="225.6" y="546.1" text-anchor="middle" font-size="3.75" font-weight="bold" fill="#2a2a2a" stroke="#2a2a2a" stroke-width="0.1">10<tspan dy="-1.6" font-size="2.70">1</tspan></text>
<text x="247.4" y="546.1" text-anchor="middle" font-size="3.75" font-weight="bold" fill="#2a2a2a" stroke="#2a2a2a" stroke-width="0.1">10<tspan dy="-1.6" font-size="2.70">2</tspan></text>
<text x="269.2" y="546.1" text-anchor="middle" font-size="3.75" font-weight="bold" fill="#2a2a2a" stroke="#2a2a2a" stroke-width="0.1">10<tspan dy="-1.6" font-size="2.70">3</tspan></text>
<path d="M318.7,538.0 L319.2,538.0 L319.7,538.0 L320.2,538.0 L320.7,537.9 L321.2,537.9 L321.7,537.8 L322.2,537.7 L322.7,537.5 L323.2,537.3 L323.7,536.9 L324.2,536.5 L324.7,535.8 L325.2,534.8 L325.7,533.6 L326.2,531.9 L326.7,529.6 L327.2,526.8 L327.7,523.3 L328.2,519.5 L328.7,514.6 L329.2,509.1 L329.7,503.9 L330.2,497.4 L330.7,490.2 L331.2,482.9 L331.7,475.7 L332.2,468.6 L332.7,462.9 L333.2,458.4 L333.7,456.8 L334.2,459.2 L334.7,463.7 L335.2,468.7 L335.7,474.2 L336.2,480.0 L336.7,485.2 L337.2,490.7 L337.7,496.6 L338.2,501.8 L338.7,506.5 L339.2,510.5 L339.7,513.9 L340.2,516.4 L340.7,518.5 L341.2,520.6 L341.7,522.2 L342.2,523.2 L342.7,524.2 L343.2,525.3 L343.7,526.3 L344.2,526.9 L344.7,527.4 L345.2,527.8 L345.7,528.4 L346.2,528.9 L346.7,529.5 L347.2,530.1 L347.7,530.7 L348.2,531.2 L348.7,531.6 L349.2,532.1 L349.7,532.7 L350.2,533.3 L350.7,533.7 L351.2,534.1 L351.7,534.5 L352.2,534.9 L352.7,535.3 L353.2,535.6 L353.7,535.9 L354.2,536.2 L354.7,536.5 L355.2,536.6 L355.7,536.8 L356.2,537.0 L356.7,537.2 L357.2,537.3 L357.7,537.4 L358.2,537.5 L358.7,537.6 L359.2,537.7 L359.7,537.7 L360.2,537.8 L360.7,537.8 L361.2,537.9 L361.7,537.9 L362.2,537.9 L362.7,537.9 L363.2,537.9 L363.7,538.0 L364.2,538.0 L364.7,538.0 L365.2,538.0 L365.7,538.0 L366.2,538.0 L366.7,538.0 L367.2,538.0 L367.7,538.0 L368.2,538.0 L368.7,538.0 L369.2,538.0 L369.7,538.0 L370.2,538.0 L370.7,538.0 L371.2,538.0 L371.7,538.0 L372.2,538.0 L372.7,538.0 L373.2,538.0 L373.7,538.0 L374.2,538.0 L374.7,538.0 L375.2,538.0 L375.7,538.0 L376.2,538.0 L376.7,538.0 L377.2,538.0 L377.7,538.0 L378.2,538.0 L378.7,538.0 L379.2,538.0 L379.7,538.0 L380.2,538.0 L380.7,538.0 L381.2,538.0 L381.7,538.0 L382.2,538.0 L382.7,538.0 L383.2,538.0 L383.7,538.0 L384.2,538.0 L384.7,538.0 L385.2,538.0 L385.7,538.0 L386.2,538.0 L386.7,538.0 L387.2,538.0 L387.7,538.0 L388.2,538.0 L388.7,538.0 L389.2,538.0 L389.7,538.0 L390.2,538.0 L390.7,538.0 L391.2,538.0 L391.7,538.0 L392.2,538.0 L392.7,538.0 L393.2,538.0 L393.7,538.0 L394.2,538.0 L394.7,538.0 L395.2,538.0 L395.7,538.0 L396.2,538.0 L396.7,538.0 L397.2,538.0 L397.7,538.0 L398.2,538.0 L398.7,538.0 L399.2,538.0 L399.7,538.0 L400.2,538.0 L400.7,538.0 L401.2,538.0 L401.7,538.0 L402.2,538.0 L402.7,538.0 L403.2,538.0 L403.7,538.0 L404.2,538.0 L404.7,538.0 L404.7,538.0 L318.7,538.0 Z" fill="#d2d2d2" stroke="none"/>
<path d="M318.2,451.0 H405.1 V538.0" fill="none" stroke="#989898" stroke-width="0.85"/>
<path d="M318.2,451.0 V538.0" fill="none" stroke="#4a4a4a" stroke-width="0.85"/>
<path d="M318.2,538.0 H405.1" fill="none" stroke="#989898" stroke-width="0.85"/>
<path d="M318.7,537.8 L319.2,537.8 L319.7,537.8 L320.2,537.7 L320.7,537.7 L321.2,537.6 L321.7,537.6 L322.2,537.5 L322.7,537.4 L323.2,537.4 L323.7,537.3 L324.2,537.2 L324.7,537.1 L325.2,537.0 L325.7,536.8 L326.2,536.7 L326.7,536.6 L327.2,536.4 L327.7,536.2 L328.2,536.0 L328.7,535.7 L329.2,535.3 L329.7,534.7 L330.2,533.7 L330.7,532.1 L331.2,530.0 L331.7,527.3 L332.2,522.9 L332.7,517.4 L333.2,511.5 L333.7,504.6 L334.2,496.1 L334.7,486.2 L335.2,477.5 L335.7,472.4 L336.2,470.8 L336.7,465.2 L337.2,457.9 L337.7,456.3 L338.2,458.0 L338.7,457.2 L339.2,460.3 L339.7,463.4 L340.2,466.8 L340.7,469.2 L341.2,473.8 L341.7,479.6 L342.2,487.3 L342.7,492.3 L343.2,496.9 L343.7,502.4 L344.2,509.2 L344.7,513.7 L345.2,517.2 L345.7,520.8 L346.2,524.3 L346.7,527.0 L347.2,529.2 L347.7,531.1 L348.2,532.4 L348.7,533.6 L349.2,534.6 L349.7,535.4 L350.2,536.0 L350.7,536.4 L351.2,536.7 L351.7,536.9 L352.2,537.1 L352.7,537.2 L353.2,537.4 L353.7,537.4 L354.2,537.5 L354.7,537.6 L355.2,537.7 L355.7,537.7 L356.2,537.8 L356.7,537.8 L357.2,537.8 L357.7,537.8 L358.2,537.8 L358.7,537.8 L359.2,537.8 L359.7,537.8 L360.2,537.8 L360.7,537.8 L361.2,537.8 L361.7,537.8 L362.2,537.8 L362.7,537.8 L363.2,537.8 L363.7,537.8 L364.2,537.8 L364.7,537.8 L365.2,537.8 L365.7,537.8 L366.2,537.8 L366.7,537.8 L367.2,537.8 L367.7,537.8 L368.2,537.8 L368.7,537.8 L369.2,537.8 L369.7,537.8 L370.2,537.8 L370.7,537.8 L371.2,537.8 L371.7,537.8 L372.2,537.8 L372.7,537.8 L373.2,537.8 L373.7,537.8 L374.2,537.8 L374.7,537.8 L375.2,537.8 L375.7,537.8 L376.2,537.8 L376.7,537.8 L377.2,537.8 L377.7,537.8 L378.2,537.8 L378.7,537.8 L379.2,537.8 L379.7,537.8 L380.2,537.8 L380.7,537.8 L381.2,537.8 L381.7,537.8 L382.2,537.8 L382.7,537.8 L383.2,537.8 L383.7,537.8 L384.2,537.8 L384.7,537.8 L385.2,537.8 L385.7,537.8 L386.2,537.8 L386.7,537.8 L387.2,537.8 L387.7,537.8 L388.2,537.8 L388.7,537.8 L389.2,537.8 L389.7,537.8 L390.2,537.8 L390.7,537.8 L391.2,537.8 L391.7,537.8 L392.2,537.8 L392.7,537.8 L393.2,537.8 L393.7,537.8 L394.2,537.8 L394.7,537.8 L395.2,537.8 L395.7,537.8 L396.2,537.8 L396.7,537.8 L397.2,537.8 L397.7,537.8 L398.2,537.8 L398.7,537.8 L399.2,537.8 L399.7,537.8 L400.2,537.8 L400.7,537.8 L401.2,537.8 L401.7,537.8 L402.2,537.8 L402.7,537.8 L403.2,537.8 L403.7,537.8 L404.2,537.8 L404.7,537.8" fill="none" stroke="#333" stroke-width="0.6" stroke-linejoin="miter"/>
<path d="M318.7,537.8 L319.2,537.8 L319.7,537.7 L320.2,537.7 L320.7,537.6 L321.2,537.5 L321.7,537.5 L322.2,537.4 L322.7,537.3 L323.2,537.2 L323.7,537.1 L324.2,537.0 L324.7,536.9 L325.2,536.8 L325.7,536.7 L326.2,536.6 L326.7,536.4 L327.2,536.2 L327.7,536.0 L328.2,535.8 L328.7,535.6 L329.2,535.4 L329.7,535.0 L330.2,534.4 L330.7,533.7 L331.2,532.6 L331.7,530.5 L332.2,527.4 L332.7,523.0 L333.2,517.2 L333.7,510.0 L334.2,501.4 L334.7,492.5 L335.2,483.7 L335.7,474.0 L336.2,466.2 L336.7,462.4 L337.2,459.1 L337.7,458.2 L338.2,457.6 L338.7,457.0 L339.2,456.3 L339.7,458.3 L340.2,463.7 L340.7,469.5 L341.2,474.3 L341.7,478.2 L342.2,484.7 L342.7,492.1 L343.2,499.0 L343.7,504.5 L344.2,509.9 L344.7,514.7 L345.2,518.9 L345.7,522.2 L346.2,525.6 L346.7,528.4 L347.2,530.5 L347.7,532.2 L348.2,533.6 L348.7,534.4 L349.2,535.2 L349.7,535.8 L350.2,536.2 L350.7,536.4 L351.2,536.7 L351.7,536.9 L352.2,537.0 L352.7,537.2 L353.2,537.3 L353.7,537.4 L354.2,537.5 L354.7,537.5 L355.2,537.6 L355.7,537.7 L356.2,537.7 L356.7,537.7 L357.2,537.8 L357.7,537.8 L358.2,537.8 L358.7,537.9 L359.2,537.9 L359.7,537.9 L360.2,537.9 L360.7,537.9 L361.2,537.9 L361.7,538.0 L362.2,538.0 L362.7,538.0 L363.2,538.0 L363.7,538.0 L364.2,538.0 L364.7,538.0 L365.2,538.0 L365.7,538.0 L366.2,538.0 L366.7,538.0 L367.2,538.0 L367.7,538.0 L368.2,538.0 L368.7,538.0 L369.2,538.0 L369.7,538.0 L370.2,538.0 L370.7,538.0 L371.2,538.0 L371.7,538.0 L372.2,538.0 L372.7,538.0 L373.2,538.0 L373.7,538.0 L374.2,538.0 L374.7,538.0 L375.2,538.0 L375.7,538.0 L376.2,538.0 L376.7,538.0 L377.2,538.0 L377.7,538.0 L378.2,538.0 L378.7,538.0 L379.2,538.0 L379.7,538.0 L380.2,538.0 L380.7,538.0 L381.2,538.0 L381.7,538.0 L382.2,538.0 L382.7,538.0 L383.2,538.0 L383.7,538.0 L384.2,538.0 L384.7,538.0 L385.2,538.0 L385.7,538.0 L386.2,538.0 L386.7,538.0 L387.2,538.0 L387.7,538.0 L388.2,538.0 L388.7,538.0 L389.2,538.0 L389.7,538.0 L390.2,538.0 L390.7,538.0 L391.2,538.0 L391.7,538.0 L392.2,538.0 L392.7,538.0 L393.2,538.0 L393.7,538.0 L394.2,538.0 L394.7,538.0 L395.2,538.0 L395.7,538.0 L396.2,538.0 L396.7,538.0 L397.2,538.0 L397.7,538.0 L398.2,538.0 L398.7,538.0 L399.2,538.0 L399.7,538.0 L400.2,538.0 L400.7,538.0 L401.2,538.0 L401.7,538.0 L402.2,538.0 L402.7,538.0 L403.2,538.0 L403.7,538.0 L404.2,538.0 L404.7,538.0" fill="none" stroke="#000" stroke-width="1.15" stroke-linejoin="round"/>
<text x="314.8" y="539.1" text-anchor="end" font-size="4.2" font-weight="normal" fill="#4a4a4a" stroke="#4a4a4a" stroke-width="0">0</text>
<text x="314.8" y="522.5" text-anchor="end" font-size="4.2" font-weight="normal" fill="#4a4a4a" stroke="#4a4a4a" stroke-width="0">20</text>
<text x="314.8" y="505.9" text-anchor="end" font-size="4.2" font-weight="normal" fill="#4a4a4a" stroke="#4a4a4a" stroke-width="0">40</text>
<text x="314.8" y="489.4" text-anchor="end" font-size="4.2" font-weight="normal" fill="#4a4a4a" stroke="#4a4a4a" stroke-width="0">60</text>
<text x="314.8" y="472.8" text-anchor="end" font-size="4.2" font-weight="normal" fill="#4a4a4a" stroke="#4a4a4a" stroke-width="0">80</text>
<text x="314.8" y="456.2" text-anchor="end" font-size="4.2" font-weight="normal" fill="#4a4a4a" stroke="#4a4a4a" stroke-width="0">100</text>
<text x="339.4" y="546.5" text-anchor="middle" font-size="3.9" font-weight="bold" fill="#2a2a2a" stroke="#2a2a2a" stroke-width="0.12">10<tspan dy="-1.6" font-size="2.81">0</tspan></text>
<text x="361.2" y="546.5" text-anchor="middle" font-size="3.9" font-weight="bold" fill="#2a2a2a" stroke="#2a2a2a" stroke-width="0.12">10<tspan dy="-1.6" font-size="2.81">1</tspan></text>
<text x="383.0" y="546.5" text-anchor="middle" font-size="3.9" font-weight="bold" fill="#2a2a2a" stroke="#2a2a2a" stroke-width="0.12">10<tspan dy="-1.6" font-size="2.81">2</tspan></text>
<text x="404.8" y="546.5" text-anchor="middle" font-size="3.9" font-weight="bold" fill="#2a2a2a" stroke="#2a2a2a" stroke-width="0.12">10<tspan dy="-1.6" font-size="2.81">3</tspan></text>
</svg></body></html>
